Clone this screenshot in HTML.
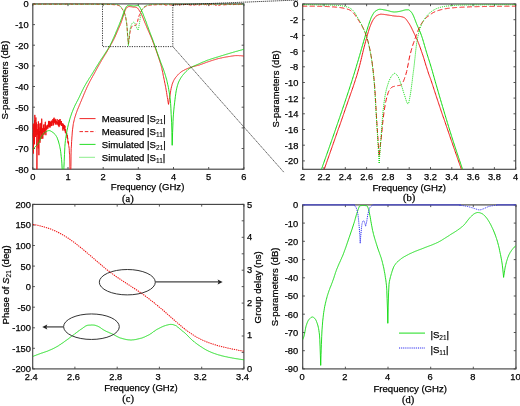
<!DOCTYPE html>
<html><head><meta charset="utf-8"><title>Figure</title><style>html,body{margin:0;padding:0;background:#fff}svg{display:block}</style></head><body>
<svg width="520" height="406" viewBox="0 0 520 406">
<rect width="520" height="406" fill="#fff"/>
<defs><filter id="soft" x="0" y="0" width="520" height="406" filterUnits="userSpaceOnUse"><feGaussianBlur stdDeviation="0.35"/></filter></defs><g filter="url(#soft)">
<rect x="32.8" y="3.9" width="211.05" height="165.30" fill="none" stroke="#444" stroke-width="1.15"/>
<path d="M32.8,169.2v-2.2M32.8,3.9v2.2M68.0,169.2v-2.2M68.0,3.9v2.2M103.2,169.2v-2.2M103.2,3.9v2.2M138.3,169.2v-2.2M138.3,3.9v2.2M173.5,169.2v-2.2M173.5,3.9v2.2M208.7,169.2v-2.2M208.7,3.9v2.2M243.9,169.2v-2.2M243.9,3.9v2.2M32.8,3.9h2.2M243.85,3.9h-2.2M32.8,24.6h2.2M243.85,24.6h-2.2M32.8,45.2h2.2M243.85,45.2h-2.2M32.8,65.9h2.2M243.85,65.9h-2.2M32.8,86.5h2.2M243.85,86.5h-2.2M32.8,107.2h2.2M243.85,107.2h-2.2M32.8,127.9h2.2M243.85,127.9h-2.2M32.8,148.5h2.2M243.85,148.5h-2.2M32.8,169.2h2.2M243.85,169.2h-2.2" stroke="#444" stroke-width="0.9" fill="none"/>
<rect x="302.7" y="4.0" width="213.00" height="165.30" fill="none" stroke="#444" stroke-width="1.15"/>
<path d="M302.7,169.3v-2.2M302.7,4.0v2.2M324.0,169.3v-2.2M324.0,4.0v2.2M345.3,169.3v-2.2M345.3,4.0v2.2M366.6,169.3v-2.2M366.6,4.0v2.2M387.9,169.3v-2.2M387.9,4.0v2.2M409.2,169.3v-2.2M409.2,4.0v2.2M430.5,169.3v-2.2M430.5,4.0v2.2M451.8,169.3v-2.2M451.8,4.0v2.2M473.1,169.3v-2.2M473.1,4.0v2.2M494.4,169.3v-2.2M494.4,4.0v2.2M515.7,169.3v-2.2M515.7,4.0v2.2M302.7,4.0h2.2M515.7,4.0h-2.2M302.7,19.7h2.2M515.7,19.7h-2.2M302.7,35.4h2.2M515.7,35.4h-2.2M302.7,51.1h2.2M515.7,51.1h-2.2M302.7,66.8h2.2M515.7,66.8h-2.2M302.7,82.5h2.2M515.7,82.5h-2.2M302.7,98.1h2.2M515.7,98.1h-2.2M302.7,113.8h2.2M515.7,113.8h-2.2M302.7,129.5h2.2M515.7,129.5h-2.2M302.7,145.2h2.2M515.7,145.2h-2.2M302.7,160.9h2.2M515.7,160.9h-2.2" stroke="#444" stroke-width="0.9" fill="none"/>
<rect x="32.7" y="204.4" width="211.20" height="164.50" fill="none" stroke="#444" stroke-width="1.15"/>
<path d="M32.7,368.9v-2.2M32.7,204.4v2.2M74.9,368.9v-2.2M74.9,204.4v2.2M117.2,368.9v-2.2M117.2,204.4v2.2M159.4,368.9v-2.2M159.4,204.4v2.2M201.7,368.9v-2.2M201.7,204.4v2.2M243.9,368.9v-2.2M243.9,204.4v2.2M32.7,204.4h2.2M32.7,225.0h2.2M32.7,245.5h2.2M32.7,266.1h2.2M32.7,286.6h2.2M32.7,307.2h2.2M32.7,327.8h2.2M32.7,348.3h2.2M32.7,368.9h2.2M243.9,204.4h-2.2M243.9,220.8h-2.2M243.9,237.3h-2.2M243.9,253.8h-2.2M243.9,270.2h-2.2M243.9,286.6h-2.2M243.9,303.1h-2.2M243.9,319.5h-2.2M243.9,336.0h-2.2M243.9,352.4h-2.2M243.9,368.9h-2.2" stroke="#444" stroke-width="0.9" fill="none"/>
<rect x="302.7" y="204.9" width="213.25" height="164.00" fill="none" stroke="#444" stroke-width="1.15"/>
<path d="M302.7,368.9v-2.2M302.7,204.9v2.2M345.4,368.9v-2.2M345.4,204.9v2.2M388.0,368.9v-2.2M388.0,204.9v2.2M430.7,368.9v-2.2M430.7,204.9v2.2M473.3,368.9v-2.2M473.3,204.9v2.2M516.0,368.9v-2.2M516.0,204.9v2.2M302.7,204.9h2.2M515.95,204.9h-2.2M302.7,223.1h2.2M515.95,223.1h-2.2M302.7,241.3h2.2M515.95,241.3h-2.2M302.7,259.6h2.2M515.95,259.6h-2.2M302.7,277.8h2.2M515.95,277.8h-2.2M302.7,296.0h2.2M515.95,296.0h-2.2M302.7,314.2h2.2M515.95,314.2h-2.2M302.7,332.5h2.2M515.95,332.5h-2.2M302.7,350.7h2.2M515.95,350.7h-2.2M302.7,368.9h2.2M515.95,368.9h-2.2" stroke="#444" stroke-width="0.9" fill="none"/>
<clipPath id="ca"><rect x="32.8" y="3.4" width="211.05" height="165.79999999999998"/></clipPath>
<clipPath id="cb"><rect x="302.7" y="3.5" width="213.00000000000006" height="165.8"/></clipPath>
<polyline points="32.5,133.0 32.6,137.6 32.8,130.4 32.9,124.3 33.0,128.8 33.2,123.5 33.3,134.3 33.4,153.6 33.5,128.6 33.7,127.4 33.8,141.0 33.9,139.0 34.1,135.3 34.2,124.5 34.3,133.5 34.5,144.3 34.6,120.4 34.7,129.3 34.8,114.9 35.0,121.0 35.1,120.1 35.2,132.2 35.4,124.5 35.5,137.0 35.6,135.8 35.8,132.6 35.9,117.5 36.0,130.0 36.1,133.6 36.3,135.3 36.4,122.5 36.5,146.0 36.7,146.0 36.8,146.0 36.9,178.0 37.1,146.0 37.2,146.0 37.3,146.0 37.4,129.2 37.6,132.7 37.7,134.7 37.8,134.1 38.0,124.1 38.1,134.1 38.2,148.4 38.4,121.4 38.5,142.6 38.6,134.2 38.7,128.0 38.9,155.2 39.0,141.2 39.1,123.5 39.3,133.3 39.4,138.9 39.5,130.9 39.7,139.9 39.8,131.6 39.9,139.6 40.0,142.7 40.2,126.9 40.3,133.3 40.4,128.4 40.6,132.6 40.7,123.3 40.8,127.6 41.0,130.2 41.1,137.4 41.2,138.9 41.3,122.7 41.5,126.1 41.6,135.2 41.7,118.7 41.9,128.2 42.0,130.3 42.1,138.3 42.3,134.8 42.4,128.8 42.5,128.5 42.6,129.2 42.8,138.7 42.9,128.1 43.0,128.7 43.2,132.1 43.3,129.6 43.4,129.1 43.6,124.6 43.7,129.9 43.8,127.8 43.9,135.1 44.1,132.6 44.2,129.5 44.3,132.4 44.5,128.0 44.6,133.6 44.7,129.3 44.9,131.4 45.0,124.2 45.1,130.3 45.2,122.9 45.4,121.8 45.5,127.7 45.6,125.7 45.8,129.1 45.9,135.2 46.0,125.9 46.2,126.5 46.3,128.7 46.4,129.4 46.5,127.5 46.7,127.3 46.8,129.4 46.9,128.8 47.1,125.2 47.2,127.2 47.3,127.3 47.5,124.8 47.6,127.6 47.7,125.0 47.8,128.8 48.0,127.0 48.1,126.6 48.2,125.0 48.4,125.9 48.5,121.6 48.6,123.4 48.8,126.5 48.9,120.9 49.0,127.3 49.1,121.4 49.3,126.8 49.4,123.2 49.5,126.6 49.7,125.1 49.8,121.3 49.9,127.3 50.1,127.6 50.2,124.2 50.3,123.6 50.4,123.8 50.6,121.9 50.7,126.3 50.8,122.6 51.0,123.6 51.1,121.9 51.2,122.1 51.4,120.6 51.5,126.0 51.6,122.8 51.7,125.2 51.9,123.0 52.0,121.3 52.1,122.0 52.3,121.4 52.4,122.6 52.5,121.6 52.7,121.7 52.8,119.2 52.9,120.4 53.0,125.7 53.2,120.5 53.3,119.6 53.4,122.6 53.6,124.9 53.7,118.6 53.8,121.2 54.0,120.3 54.1,117.7 54.2,123.2 54.3,121.5 54.5,121.7 54.6,119.9 54.7,122.5 54.9,120.3 55.0,121.2 55.1,119.1 55.3,118.9 55.4,124.5 55.5,120.4 55.6,122.2 55.8,121.5 55.9,120.7 56.0,120.6 56.2,123.1 56.3,121.1 56.4,121.5 56.6,121.9 56.7,124.5 56.8,123.4 56.9,122.8 57.1,120.8 57.2,119.1 57.3,124.3 57.5,124.4 57.6,122.0 57.7,123.5 57.9,124.1 58.0,124.3 58.1,124.6 58.2,121.6 58.4,126.0 58.5,120.0 58.6,124.7 58.8,124.0 58.9,124.9 59.0,127.1 59.2,126.3 59.3,120.6 59.4,119.5 59.5,125.1 59.7,121.2 59.8,123.4 59.9,125.4 60.1,120.0 60.2,119.1 60.3,124.4 60.5,124.0 60.6,123.5 60.7,124.2 60.8,122.4 61.0,121.0 61.1,124.1 61.2,122.5 61.4,121.1 61.5,126.0 61.6,124.8 61.8,126.0 61.9,123.1 62.0,123.9 62.1,123.3 62.3,123.7 62.4,126.2 62.5,124.3 62.7,126.8 62.8,126.9 62.9,130.5 63.1,123.7 63.2,128.5 63.3,126.7 63.4,127.0 63.6,124.5 63.7,126.6 63.8,129.0 64.0,127.7 64.1,128.2 64.2,127.7 64.4,130.6 64.5,128.7 64.6,125.1 64.7,128.0 64.9,126.1 65.0,126.0 65.1,129.1 65.3,132.5 65.4,130.7 65.5,129.1 65.7,129.8 65.8,133.3 65.9,132.2 66.0,132.3 66.2,132.6 66.3,133.1 66.4,134.6 66.6,134.7 66.7,134.6 66.8,133.4 67.0,136.1 67.1,135.1 67.2,138.0 67.3,135.6 67.5,137.8 67.6,138.6 67.7,137.8 67.9,142.3 68.0,142.7 68.1,141.3 68.3,143.5 68.4,143.9 68.5,141.9 68.6,145.4 68.8,145.9 68.9,146.9 69.0,146.8 69.2,148.6 69.3,150.2 69.4,153.0 69.6,154.1 69.7,155.9 69.8,160.0 69.9,167.2 70.1,176.4 70.2,190.1 70.3,207.6 70.5,208.2 70.6,192.3 70.7,177.9 70.9,166.7 71.0,157.0 71.1,152.5 71.2,148.7 71.4,146.1 71.5,144.1 71.6,141.5 71.8,139.1 71.9,137.1 72.0,136.0 72.1,135.3 72.3,132.0 72.6,129.2 72.9,126.9 73.2,125.0 73.2,124.8 73.4,123.5 73.7,122.1 74.0,120.8 74.3,119.6 74.5,118.6 74.8,117.6 75.1,116.7 75.4,115.8 75.7,115.0 75.9,114.1 76.2,113.3 76.2,113.3 76.5,112.5 76.8,111.7 77.0,110.9 77.3,110.2 77.6,109.5 77.9,108.9 78.1,108.2 78.4,107.6 78.7,106.9 79.0,106.3 79.2,105.6 79.5,105.0 79.5,105.0 79.8,104.3 80.1,103.6 80.3,102.9 80.6,102.3 80.9,101.6 81.2,101.0 81.5,100.3 81.7,99.6 82.0,99.0 82.0,99.0 82.3,98.3 82.6,97.7 82.8,97.0 83.1,96.4 83.4,95.7 83.7,95.0 83.9,94.4 84.2,93.7 84.5,93.0 84.8,92.4 85.0,91.7 85.3,91.1 85.6,90.4 85.9,89.8 86.2,89.2 86.4,88.6 86.7,87.9 87.0,87.3 87.3,86.7 87.5,86.1 87.7,85.8 87.8,85.6 88.1,85.0 88.4,84.4 88.6,83.9 88.9,83.3 89.2,82.8 89.5,82.3 89.7,81.7 90.0,81.2 90.3,80.7 90.6,80.2 90.8,79.7 91.1,79.2 91.4,78.7 91.7,78.1 92.0,77.6 92.2,77.1 92.5,76.6 92.8,76.1 93.1,75.6 93.3,75.2 93.6,74.7 93.9,74.2 94.2,73.7 94.4,73.2 94.7,72.7 94.8,72.5 95.0,72.1 95.3,71.6 95.5,71.1 95.8,70.6 96.1,70.1 96.4,69.6 96.7,69.1 96.9,68.6 97.2,68.1 97.5,67.6 97.8,67.1 98.0,66.6 98.3,66.1 98.6,65.6 98.9,65.1 99.1,64.6 99.4,64.2 99.7,63.7 100.0,63.2 100.2,62.7 100.5,62.2 100.8,61.7 101.1,61.3 101.3,60.8 101.4,60.7 101.6,60.3 101.9,59.8 102.2,59.4 102.5,58.9 102.7,58.5 103.0,58.0 103.3,57.6 103.6,57.1 103.8,56.7 104.1,56.2 104.4,55.8 104.7,55.3 104.9,54.9 105.2,54.4 105.5,54.0 105.8,53.5 106.0,53.1 106.2,52.8 106.3,52.6 106.6,52.1 106.9,51.7 107.2,51.2 107.4,50.7 107.7,50.2 108.0,49.8 108.3,49.3 108.5,48.8 108.8,48.3 109.1,47.9 109.4,47.4 109.6,46.9 109.8,46.6 109.9,46.4 110.2,45.9 110.5,45.4 110.7,44.9 111.0,44.4 111.3,43.9 111.6,43.5 111.9,43.0 112.1,42.5 112.4,42.0 112.7,41.4 113.0,40.9 113.2,40.4 113.5,39.9 113.8,39.3 114.1,38.8 114.2,38.4 114.3,38.2 114.6,37.6 114.9,37.0 115.2,36.4 115.4,35.8 115.7,35.2 116.0,34.5 116.3,33.9 116.5,33.2 116.8,32.6 117.1,31.9 117.4,31.3 117.7,30.6 117.9,30.0 118.2,29.3 118.3,29.2 118.5,28.7 118.8,28.1 119.0,27.5 119.3,26.9 119.6,26.2 119.9,25.6 120.1,24.9 120.4,24.3 120.6,23.9 120.7,23.6 121.0,22.8 121.2,22.1 121.5,21.3 121.8,20.5 122.1,19.7 122.1,19.7 122.4,18.8 122.6,17.9 122.9,17.0 123.2,16.1 123.2,16.0 123.5,15.2 123.7,14.4 124.0,13.5 124.3,12.7 124.4,12.5 124.6,12.0 124.8,11.2 125.1,10.5 125.3,10.0 125.4,9.9 125.7,9.3 125.9,8.8 126.2,8.4 126.4,8.1 126.5,8.0 126.8,7.7 127.0,7.4 127.3,7.1 127.5,7.0 127.6,7.0 127.9,6.9 128.2,6.8 128.4,6.7 128.7,6.6 129.0,6.6 129.0,6.6 129.3,6.6 129.5,6.6 129.8,6.6 130.1,6.7 130.4,6.7 130.6,6.7 130.9,6.8 131.2,6.8 131.3,6.8 131.5,6.8 131.7,6.8 132.0,6.9 132.3,6.9 132.6,7.0 132.9,7.0 133.1,7.0 133.4,7.1 133.4,7.1 133.7,7.1 134.0,7.1 134.2,7.1 134.5,7.1 134.8,7.1 135.1,7.2 135.3,7.2 135.6,7.2 135.6,7.2 135.9,7.3 136.2,7.3 136.4,7.4 136.7,7.5 136.7,7.5 137.0,7.7 137.3,7.9 137.6,8.2 137.8,8.5 138.1,8.8 138.2,9.0 138.4,9.2 138.7,9.6 138.9,10.0 139.2,10.4 139.5,10.9 139.7,11.3 139.8,11.3 140.0,11.8 140.3,12.2 140.6,12.7 140.9,13.2 141.1,13.7 141.3,13.9 141.4,14.2 141.7,14.8 142.0,15.4 142.2,16.0 142.5,16.7 142.8,17.3 142.8,17.4 143.1,18.0 143.4,18.7 143.6,19.4 143.9,20.2 144.2,20.9 144.5,21.6 144.7,22.1 144.7,22.3 145.0,22.9 145.3,23.5 145.5,23.9 145.6,24.1 145.8,24.7 146.1,25.4 146.4,26.1 146.7,26.7 146.9,27.4 147.2,28.1 147.5,28.8 147.7,29.2 147.8,29.4 148.1,30.1 148.3,30.7 148.6,31.4 148.9,32.0 149.2,32.6 149.4,33.2 149.7,33.9 150.0,34.5 150.3,35.1 150.5,35.8 150.8,36.4 151.1,37.1 151.4,37.8 151.6,38.4 151.8,38.8 151.9,39.1 152.2,39.8 152.5,40.5 152.7,41.2 153.0,42.0 153.3,42.7 153.6,43.4 153.9,44.1 154.1,44.9 154.4,45.6 154.7,46.4 155.0,47.1 155.2,47.9 155.5,48.6 155.8,49.4 156.1,50.2 156.3,51.0 156.6,51.8 156.9,52.6 157.2,53.4 157.4,54.2 157.7,55.0 158.0,55.8 158.3,56.6 158.6,57.4 158.8,58.3 159.0,58.8 159.1,59.1 159.4,60.0 159.7,60.8 159.9,61.6 160.2,62.5 160.5,63.4 160.8,64.3 161.0,65.3 161.3,66.3 161.5,67.0 161.6,67.4 161.9,68.5 162.1,69.8 162.4,71.1 162.7,72.4 163.0,73.8 163.2,75.2 163.5,76.6 163.8,78.0 163.8,78.0 164.1,79.4 164.4,80.7 164.6,82.0 164.9,83.4 165.2,84.8 165.5,86.2 165.7,87.7 165.8,88.0 166.0,89.2 166.3,90.8 166.6,92.5 166.8,94.2 167.1,95.9 167.3,97.0 167.4,97.6 167.7,99.3 167.9,101.0 168.2,102.7 168.5,104.4 168.9,102.0 169.2,99.6 169.6,97.3 169.7,96.9 170.0,95.1 170.4,92.9 170.7,90.7 171.1,88.7 171.5,86.9 171.7,86.1 171.9,85.5 172.2,84.2 172.6,83.1 173.0,82.1 173.4,81.3 173.6,80.8 173.7,80.5 174.1,79.8 174.5,79.2 174.9,78.6 175.2,78.0 175.6,77.5 176.0,77.0 176.4,76.6 176.6,76.3 176.7,76.1 177.1,75.7 177.5,75.3 177.9,74.9 178.2,74.5 178.6,74.1 179.0,73.7 179.4,73.4 179.7,73.1 180.1,72.7 180.5,72.4 180.9,72.1 181.2,71.9 181.5,71.7 181.6,71.6 182.0,71.4 182.4,71.1 182.7,70.9 183.1,70.7 183.5,70.5 183.9,70.3 184.2,70.1 184.6,69.9 185.0,69.7 185.4,69.5 185.7,69.3 186.1,69.1 186.5,69.0 186.9,68.8 187.2,68.7 187.6,68.5 188.0,68.3 188.4,68.2 188.7,68.1 189.1,67.9 189.4,67.8 189.5,67.8 189.9,67.6 190.2,67.5 190.6,67.4 191.0,67.3 191.4,67.2 191.7,67.0 192.1,66.9 192.5,66.8 192.9,66.7 193.2,66.6 193.6,66.5 194.0,66.4 194.3,66.3 194.7,66.2 195.1,66.1 195.5,66.0 195.8,65.9 196.2,65.8 196.6,65.7 197.0,65.6 197.3,65.5 197.7,65.4 198.1,65.3 198.5,65.2 198.8,65.1 199.2,65.0 199.2,65.0 199.6,64.9 200.0,64.7 200.3,64.6 200.7,64.5 201.1,64.4 201.5,64.2 201.8,64.1 202.2,64.0 202.6,63.8 203.0,63.7 203.3,63.5 203.7,63.4 204.1,63.3 204.5,63.1 204.8,63.0 205.2,62.8 205.6,62.7 206.0,62.6 206.3,62.4 206.7,62.3 207.1,62.2 207.5,62.0 207.8,61.9 208.2,61.8 208.6,61.6 209.0,61.5 209.0,61.5 209.3,61.4 209.7,61.3 210.1,61.1 210.5,61.0 210.8,60.9 211.2,60.8 211.6,60.6 212.0,60.5 212.3,60.4 212.7,60.3 213.1,60.2 213.5,60.0 213.8,59.9 214.2,59.8 214.6,59.7 215.0,59.6 215.3,59.5 215.7,59.4 216.1,59.2 216.5,59.1 216.8,59.0 217.2,58.9 217.6,58.8 218.0,58.7 218.3,58.6 218.7,58.5 218.9,58.5 219.1,58.5 219.4,58.4 219.8,58.3 220.2,58.2 220.6,58.1 220.9,58.0 221.3,58.0 221.7,57.9 222.1,57.8 222.4,57.7 222.8,57.6 223.2,57.6 223.6,57.5 223.9,57.4 224.3,57.3 224.7,57.3 225.1,57.2 225.4,57.1 225.8,57.1 226.2,57.0 226.6,56.9 226.9,56.9 227.3,56.8 227.7,56.8 228.1,56.7 228.4,56.6 228.7,56.6 228.8,56.6 229.2,56.5 229.6,56.5 229.9,56.4 230.3,56.3 230.7,56.3 231.1,56.2 231.4,56.1 231.8,56.1 232.2,56.0 232.6,56.0 232.9,55.9 233.3,55.9 233.7,55.8 234.1,55.8 234.4,55.7 234.8,55.7 235.2,55.7 235.6,55.6 235.9,55.6 236.3,55.6 236.6,55.6 236.7,55.6 237.1,55.6 237.4,55.6 237.8,55.6 238.2,55.6 238.6,55.6 238.9,55.6 239.3,55.7 239.7,55.7 240.1,55.7 240.4,55.7 240.8,55.7 241.2,55.8 241.6,55.8 241.9,55.8 242.3,55.9 242.7,55.9 243.1,56.0 243.4,56.0 243.8,56.1" fill="none" stroke="#ee1010" stroke-width="0.9" stroke-linejoin="round" clip-path="url(#ca)"/>
<polyline points="32.8,4.0 33.0,4.0 34.3,4.1 35.6,4.1 36.9,4.1 38.2,4.2 39.5,3.9 40.8,4.2 42.1,4.0 43.4,4.2 44.7,4.1 46.0,4.0 47.3,4.1 48.6,4.1 49.9,4.1 51.2,4.1 52.5,4.0 53.8,3.8 55.1,4.2 56.4,4.1 57.7,4.1 59.0,4.1 60.3,4.2 61.6,4.0 62.9,4.0 64.2,4.0 65.5,4.2 66.8,3.9 68.1,4.2 69.4,4.0 70.7,3.9 72.0,4.2 73.3,4.0 74.6,3.9 75.9,4.0 77.2,4.2 78.5,4.2 79.8,4.0 81.1,4.1 82.4,4.1 83.7,4.0 85.0,4.1 86.3,4.0 87.6,4.0 88.9,4.0 90.2,4.1 91.5,4.1 92.8,4.0 94.1,4.0 95.4,4.2 96.7,4.1 98.0,4.2 99.3,4.2 100.6,4.1 101.9,4.3 103.2,4.0 104.5,4.1 105.8,4.0 107.1,4.3 108.4,4.3 108.9,4.5 109.1,4.5 109.4,4.5 109.7,4.5 109.9,4.5 110.2,4.5 110.4,4.5 110.7,4.5 111.0,4.6 111.2,4.6 111.5,4.6 111.8,4.6 112.0,4.6 112.3,4.6 112.6,4.6 112.8,4.6 113.1,4.7 113.2,4.7 113.4,4.7 113.6,4.7 113.9,4.7 114.1,4.7 114.4,4.7 114.7,4.8 114.9,4.8 115.2,4.8 115.5,4.9 115.7,4.9 116.0,4.9 116.1,4.9 116.3,4.9 116.5,5.0 116.8,5.0 117.1,5.1 117.3,5.1 117.6,5.2 117.8,5.2 118.1,5.3 118.4,5.4 118.4,5.4 118.6,5.5 118.9,5.6 119.2,5.7 119.4,5.9 119.7,6.1 119.8,6.1 120.0,6.3 120.2,6.6 120.5,6.8 120.8,7.2 121.0,7.5 121.3,7.8 121.3,7.8 121.5,8.1 121.8,8.4 122.1,8.8 122.3,9.1 122.6,9.5 122.7,9.7 122.9,9.9 123.1,10.3 123.4,10.8 123.7,11.3 123.9,11.8 124.2,12.4 124.2,12.5 124.5,13.0 124.7,13.8 125.0,14.6 125.2,15.5 125.5,16.6 125.7,17.4 125.8,17.7 126.0,19.1 126.3,20.7 126.6,22.6 126.8,24.4 126.8,24.7 127.1,27.7 127.4,31.4 127.6,35.0 127.7,35.8 127.9,38.1 128.2,41.1 128.4,44.0 128.7,42.0 129.0,39.9 129.2,38.4 129.3,37.8 129.5,35.6 129.8,33.5 130.0,32.3 130.1,31.9 130.4,30.5 130.7,29.4 130.9,28.4 131.0,28.4 131.2,27.7 131.5,27.1 131.8,26.6 131.8,26.6 132.1,26.3 132.3,26.0 132.6,25.8 132.8,25.7 132.9,25.7 133.2,25.6 133.5,25.6 133.7,25.5 134.0,25.5 134.3,25.4 134.3,25.4 134.6,25.4 134.9,25.4 135.1,25.3 135.4,25.3 135.6,25.2 135.7,25.2 136.0,24.9 136.3,24.5 136.4,24.2 136.5,24.0 136.8,23.5 137.1,22.8 137.4,22.0 137.5,21.6 137.6,21.1 137.9,20.0 138.2,18.8 138.5,17.7 138.6,17.4 138.8,16.8 139.0,16.0 139.3,15.2 139.6,14.5 139.9,13.9 140.2,13.2 140.4,12.8 140.4,12.6 140.7,12.0 141.0,11.4 141.3,10.8 141.6,10.3 141.8,9.8 142.1,9.4 142.2,9.3 142.4,9.0 142.7,8.7 143.0,8.4 143.2,8.1 143.5,7.9 143.8,7.7 144.1,7.4 144.4,7.2 144.4,7.2 144.6,7.1 144.9,6.9 145.2,6.7 145.5,6.6 145.8,6.4 146.0,6.3 146.3,6.1 146.6,6.0 146.9,5.9 147.2,5.8 147.3,5.8 147.4,5.7 147.7,5.7 148.0,5.6 148.3,5.5 148.6,5.5 148.8,5.4 149.1,5.3 149.4,5.3 149.7,5.2 150.0,5.2 150.2,5.2 150.5,5.1 150.8,5.1 151.0,5.1 151.1,5.1 151.4,5.0 151.6,5.0 151.9,5.0 152.2,4.9 152.5,4.9 152.8,4.9 153.0,4.9 153.3,4.9 153.6,4.8 153.9,4.8 154.2,4.8 154.4,4.8 154.7,4.8 155.0,4.8 155.1,4.8 155.3,4.8 155.6,4.8 155.8,4.7 156.1,4.7 156.4,4.7 156.7,4.7 157.0,4.7 157.2,4.7 157.5,4.7 157.8,4.7 158.1,4.7 158.4,4.6 158.6,4.6 158.9,4.6 159.2,4.6 159.5,4.6 159.8,4.6 160.0,4.6 160.3,4.6 160.6,4.6 160.9,4.6 161.1,4.6 161.4,4.6 161.7,4.6 162.7,3.9 164.0,4.3 165.3,5.0 166.6,5.0 167.9,5.0 169.2,4.7 170.5,4.9 171.8,5.0 173.1,4.7 174.4,5.1 175.7,3.8 177.0,5.0 178.3,4.3 179.6,5.1 180.9,4.6 182.2,4.3 183.5,4.8 184.8,4.3 186.1,4.3 187.4,4.1 188.7,4.7 190.0,4.9 191.3,5.1 192.6,4.6 193.9,5.1 195.2,4.7 196.5,4.7 197.8,4.9 199.1,5.1 200.4,4.6 201.7,4.6 203.0,4.6 204.3,4.7 205.6,4.3 206.9,5.1 208.2,4.5 209.5,4.9 210.8,4.4 212.1,4.8 213.4,4.9 214.7,4.5 216.0,5.5 217.3,4.8 218.6,5.4 219.9,5.1 221.2,4.4 222.5,4.5 223.8,4.9 225.1,4.7 226.4,4.7 227.7,4.6 229.0,4.0 230.3,4.6 231.6,3.8 232.9,4.8 234.2,4.4 235.5,4.4 236.8,4.6 238.1,4.8 239.4,4.1 240.7,4.0 242.0,4.3 243.3,3.9" fill="none" stroke="#ee1010" stroke-width="0.9" stroke-linejoin="round" stroke-dasharray="3.5,1.8" clip-path="url(#ca)"/>
<polyline points="32.5,150.0 32.8,149.6 33.2,149.2 33.5,148.8 33.8,148.4 34.2,148.0 34.5,147.6 34.8,147.2 35.0,147.0 35.1,146.8 35.5,146.5 35.8,146.2 36.1,145.9 36.5,145.5 36.8,145.2 37.1,144.9 37.5,144.6 37.8,144.2 38.1,143.8 38.3,143.5 38.4,143.3 38.8,142.7 39.1,142.0 39.4,141.3 39.8,140.4 40.1,139.6 40.4,138.8 40.8,138.0 41.1,137.3 41.4,136.7 41.6,136.4 41.8,136.2 42.1,135.7 42.4,135.2 42.7,134.7 43.1,134.3 43.4,133.8 43.7,133.4 44.1,133.1 44.4,132.8 44.7,132.5 45.0,132.3 45.1,132.3 45.4,132.1 45.7,131.8 46.0,131.6 46.4,131.5 46.7,131.3 47.0,131.1 47.4,131.0 47.7,130.8 48.0,130.7 48.4,130.7 48.7,130.6 49.0,130.6 49.0,130.6 49.4,130.6 49.7,130.7 50.0,130.8 50.3,130.9 50.7,131.0 51.0,131.2 51.3,131.4 51.7,131.6 52.0,131.8 52.3,132.0 52.7,132.3 53.0,132.5 53.0,132.5 53.3,132.7 53.6,133.0 54.0,133.3 54.3,133.6 54.6,134.0 55.0,134.3 55.3,134.8 55.6,135.2 56.0,135.7 56.3,136.2 56.4,136.4 56.6,136.8 57.0,137.4 57.3,138.2 57.6,139.0 57.9,139.9 58.3,140.9 58.6,142.0 58.9,143.2 59.3,144.5 59.6,145.8 59.7,146.3 59.9,147.4 60.3,149.1 60.6,151.2 60.9,153.6 61.2,156.4 61.6,159.7 61.7,161.0 61.9,163.8 62.2,169.7 62.6,177.0 62.9,185.0 63.2,179.5 63.5,173.7 63.9,167.7 64.2,161.5 64.2,161.0 64.5,154.3 64.8,147.6 64.9,146.3 65.1,143.7 65.4,140.7 65.8,138.2 66.1,136.0 66.4,134.1 66.6,133.0 66.7,132.3 67.0,130.6 67.4,129.0 67.7,127.4 68.0,126.0 68.3,124.7 68.6,123.4 69.0,122.2 69.3,121.1 69.6,119.9 69.6,119.9 69.9,118.8 70.2,117.8 70.5,116.8 70.9,115.8 71.2,114.9 71.5,113.9 71.8,113.1 72.1,112.2 72.5,111.4 72.8,110.5 73.1,109.8 73.4,109.0 73.7,108.3 73.7,108.2 74.1,107.5 74.4,106.8 74.7,106.1 75.0,105.4 75.3,104.8 75.6,104.1 76.0,103.5 76.3,102.9 76.6,102.3 76.9,101.7 77.2,101.1 77.6,100.5 77.9,99.8 78.2,99.2 78.3,99.0 78.5,98.6 78.8,97.9 79.2,97.3 79.5,96.6 79.8,95.9 80.1,95.3 80.4,94.6 80.7,93.9 81.1,93.2 81.4,92.6 81.7,91.9 82.0,91.2 82.3,90.6 82.7,89.9 83.0,89.3 83.3,88.7 83.6,88.0 83.9,87.4 84.3,86.8 84.6,86.2 84.8,85.8 84.9,85.6 85.2,85.1 85.5,84.5 85.8,84.0 86.2,83.4 86.5,82.9 86.8,82.3 87.1,81.8 87.4,81.3 87.8,80.8 88.1,80.3 88.4,79.8 88.7,79.3 89.0,78.7 89.3,78.2 89.7,77.7 90.0,77.3 90.3,76.8 90.6,76.3 90.9,75.8 91.3,75.3 91.6,74.8 91.9,74.3 92.2,73.8 92.5,73.2 92.9,72.7 93.0,72.5 93.2,72.2 93.5,71.7 93.8,71.2 94.1,70.7 94.4,70.1 94.8,69.6 95.1,69.1 95.4,68.6 95.7,68.1 96.0,67.5 96.4,67.0 96.7,66.5 97.0,66.0 97.3,65.5 97.6,65.0 98.0,64.4 98.3,63.9 98.6,63.4 98.9,62.9 99.2,62.4 99.5,61.9 99.9,61.4 100.2,60.9 100.3,60.7 100.5,60.4 100.8,59.9 101.1,59.4 101.5,58.9 101.8,58.4 102.1,58.0 102.4,57.5 102.7,57.0 103.1,56.5 103.4,56.0 103.7,55.6 104.0,55.1 104.3,54.6 104.6,54.1 105.0,53.6 105.3,53.1 105.5,52.8 105.6,52.6 105.9,52.2 106.2,51.7 106.6,51.2 106.9,50.7 107.2,50.2 107.5,49.7 107.8,49.2 108.1,48.7 108.5,48.2 108.8,47.7 109.1,47.1 109.4,46.6 109.4,46.6 109.7,46.0 110.1,45.4 110.4,44.7 110.7,44.1 111.0,43.4 111.3,42.8 111.7,42.1 112.0,41.4 112.3,40.7 112.6,40.0 112.9,39.3 113.2,38.6 113.4,38.4 113.6,37.9 113.9,37.2 114.2,36.5 114.5,35.8 114.8,35.0 115.2,34.3 115.5,33.6 115.8,32.8 116.1,32.0 116.4,31.3 116.8,30.5 117.1,29.8 117.3,29.2 117.4,29.0 117.7,28.3 118.0,27.5 118.3,26.7 118.7,26.0 119.0,25.2 119.3,24.4 119.5,23.9 119.6,23.6 119.9,22.8 120.3,22.0 120.6,21.1 120.9,20.3 121.2,19.4 121.5,18.6 121.5,18.6 121.9,17.7 122.2,16.9 122.5,16.0 122.8,15.1 123.1,14.2 123.4,13.4 123.4,13.3 123.8,12.5 124.1,11.6 124.4,10.7 124.7,9.9 124.9,9.4 125.0,9.1 125.4,8.4 125.7,7.7 126.0,7.1 126.1,7.0 126.3,6.7 126.6,6.3 127.0,5.9 127.2,5.8 127.3,5.7 127.6,5.6 127.9,5.4 128.2,5.3 128.5,5.3 128.6,5.3 128.9,5.3 129.2,5.3 129.5,5.4 129.8,5.4 130.1,5.5 130.5,5.5 130.7,5.5 130.8,5.5 131.1,5.6 131.4,5.7 131.7,5.7 132.0,5.8 132.4,5.9 132.7,5.9 133.0,6.0 133.3,6.0 133.4,6.0 133.6,6.0 134.0,6.0 134.3,6.0 134.6,5.9 134.9,5.9 135.2,5.8 135.6,5.8 135.6,5.8 135.9,5.7 136.2,5.6 136.5,5.6 136.8,5.5 137.1,5.5 137.1,5.5 137.5,5.4 137.8,5.4 138.0,5.4 138.1,5.4 138.4,5.6 138.7,5.8 138.8,5.8 139.1,6.1 139.4,6.5 139.4,6.5 139.7,7.0 140.0,7.6 140.3,8.2 140.7,8.9 140.8,9.3 141.0,9.5 141.3,10.1 141.6,10.7 141.9,11.3 142.2,11.9 142.4,12.2 142.6,12.7 142.9,13.5 143.2,14.3 143.5,15.2 143.8,16.1 143.9,16.3 144.2,16.9 144.5,17.7 144.8,18.5 145.1,19.3 145.4,20.2 145.7,20.9 145.8,21.0 146.1,21.9 146.4,22.8 146.7,23.7 146.8,23.9 147.0,24.6 147.3,25.5 147.7,26.4 148.0,27.2 148.3,28.1 148.6,29.0 148.7,29.2 148.9,29.8 149.3,30.7 149.6,31.5 149.9,32.4 150.2,33.2 150.5,34.0 150.8,34.8 151.2,35.7 151.5,36.5 151.8,37.3 152.1,38.2 152.4,38.8 152.4,39.0 152.8,39.9 153.1,40.8 153.4,41.7 153.7,42.6 154.0,43.4 154.4,44.3 154.7,45.2 155.0,46.2 155.3,47.1 155.6,48.0 155.9,48.9 156.3,49.8 156.6,50.7 156.9,51.6 157.2,52.5 157.5,53.4 157.9,54.3 158.2,55.3 158.5,56.2 158.8,57.1 159.1,58.0 159.5,58.8 159.8,59.7 160.1,60.6 160.4,61.5 160.6,62.0 160.7,62.3 161.0,63.2 161.4,64.0 161.7,64.8 162.0,65.6 162.3,66.4 162.6,67.3 163.0,68.1 163.3,68.9 163.6,69.8 163.9,70.7 164.0,71.0 164.2,71.7 164.6,72.7 164.9,73.7 165.2,74.7 165.5,75.7 165.8,76.8 166.1,77.9 166.5,79.1 166.8,80.3 167.0,81.2 167.1,81.6 167.4,83.0 167.7,84.4 168.1,85.9 168.4,87.5 168.7,89.3 169.0,91.0 169.0,91.1 169.3,92.9 169.7,94.9 170.0,97.2 170.3,99.9 170.4,101.0 170.6,103.4 170.9,108.4 171.2,114.5 171.4,118.0 171.6,122.2 171.9,132.7 172.2,145.3 172.6,132.2 173.0,121.6 173.2,118.0 173.4,114.9 173.8,110.1 174.2,106.3 174.6,103.0 174.6,102.9 175.0,99.5 175.4,96.3 175.8,93.4 176.2,90.9 176.6,89.0 176.6,88.9 177.0,87.2 177.4,85.7 177.8,84.4 178.2,83.2 178.6,82.1 179.0,81.2 179.5,80.3 179.5,80.2 179.9,79.5 180.3,78.8 180.7,78.1 181.1,77.5 181.5,76.9 181.9,76.3 182.3,75.8 182.7,75.3 183.1,74.8 183.5,74.3 183.9,73.9 184.3,73.4 184.4,73.3 184.7,73.0 185.1,72.5 185.5,72.1 185.9,71.7 186.3,71.3 186.7,70.9 187.1,70.5 187.5,70.1 187.9,69.7 188.3,69.4 188.7,69.1 189.1,68.8 189.4,68.6 189.5,68.5 189.9,68.3 190.3,68.0 190.7,67.8 191.1,67.5 191.5,67.3 191.9,67.1 192.3,66.8 192.7,66.6 193.1,66.4 193.5,66.2 194.0,66.0 194.4,65.8 194.8,65.7 195.2,65.5 195.6,65.3 196.0,65.1 196.4,64.9 196.8,64.8 197.2,64.6 197.6,64.4 198.0,64.2 198.4,64.1 198.8,63.9 199.2,63.7 199.2,63.7 199.6,63.5 200.0,63.3 200.4,63.2 200.8,63.0 201.2,62.8 201.6,62.6 202.0,62.5 202.4,62.3 202.8,62.1 203.2,62.0 203.6,61.8 204.0,61.6 204.4,61.5 204.8,61.3 205.2,61.1 205.6,61.0 206.0,60.8 206.4,60.6 206.8,60.5 207.2,60.3 207.6,60.2 208.1,60.0 208.5,59.9 208.9,59.8 209.0,59.7 209.3,59.6 209.7,59.5 210.1,59.3 210.5,59.2 210.9,59.1 211.3,58.9 211.7,58.8 212.1,58.7 212.5,58.5 212.9,58.4 213.3,58.3 213.7,58.2 214.1,58.1 214.5,57.9 214.9,57.8 215.3,57.7 215.7,57.6 216.1,57.4 216.5,57.3 216.9,57.2 217.3,57.1 217.7,57.0 218.1,56.8 218.5,56.7 218.9,56.6 218.9,56.6 219.3,56.5 219.7,56.3 220.1,56.2 220.5,56.1 220.9,56.0 221.3,55.8 221.7,55.7 222.1,55.6 222.6,55.5 223.0,55.3 223.4,55.2 223.8,55.1 224.2,55.0 224.6,54.8 225.0,54.7 225.4,54.6 225.8,54.5 226.2,54.4 226.6,54.2 227.0,54.1 227.4,54.0 227.8,53.9 228.2,53.8 228.6,53.6 228.7,53.6 229.0,53.5 229.4,53.4 229.8,53.3 230.2,53.2 230.6,53.0 231.0,52.9 231.4,52.8 231.8,52.7 232.2,52.6 232.6,52.5 233.0,52.3 233.4,52.2 233.8,52.1 234.2,52.0 234.6,51.9 235.0,51.8 235.4,51.6 235.8,51.5 236.2,51.4 236.6,51.3 237.1,51.2 237.5,51.1 237.9,51.0 238.3,50.8 238.7,50.7 239.1,50.6 239.5,50.5 239.9,50.4 240.3,50.3 240.7,50.2 241.1,50.1 241.5,50.0 241.9,49.8 242.3,49.7 242.7,49.6 243.1,49.5 243.5,49.4 243.9,49.3" fill="none" stroke="#0cd90c" stroke-width="0.9" stroke-linejoin="round" clip-path="url(#ca)"/>
<polyline points="32.8,4.0 110.5,4.1 110.8,4.1 111.0,4.1 111.3,4.1 111.6,4.1 111.9,4.2 112.1,4.2 112.4,4.2 112.7,4.2 112.9,4.2 113.2,4.2 113.5,4.2 113.7,4.2 114.0,4.2 114.3,4.2 114.5,4.3 114.8,4.3 115.1,4.3 115.3,4.3 115.5,4.3 115.6,4.3 115.9,4.4 116.1,4.4 116.4,4.4 116.7,4.4 116.9,4.5 117.2,4.5 117.5,4.6 117.7,4.7 118.0,4.7 118.1,4.7 118.3,4.8 118.5,4.9 118.8,5.0 119.1,5.1 119.3,5.3 119.6,5.5 119.8,5.6 119.9,5.7 120.1,6.0 120.4,6.3 120.7,6.6 120.9,7.0 121.2,7.3 121.3,7.5 121.5,7.7 121.7,8.1 122.0,8.4 122.3,8.8 122.5,9.2 122.7,9.6 122.8,9.7 123.1,10.1 123.3,10.6 123.6,11.1 123.9,11.7 124.1,12.3 124.2,12.5 124.4,12.9 124.7,13.7 124.9,14.6 125.2,15.5 125.5,16.6 125.7,17.6 125.7,17.8 126.0,19.2 126.3,20.9 126.5,22.8 126.8,25.0 126.8,25.1 127.1,28.1 127.3,31.8 127.6,35.6 127.7,36.6 127.9,39.0 128.1,42.5 128.4,45.9 128.6,43.7 128.8,41.5 129.0,39.5 129.1,38.4 129.2,37.5 129.4,35.4 129.5,33.5 129.7,31.9 129.7,31.8 129.9,30.6 130.1,29.4 130.3,28.4 130.5,27.6 130.5,27.6 130.7,26.9 130.8,26.2 131.0,25.7 131.2,25.2 131.3,25.0 131.4,24.8 131.6,24.4 131.8,24.0 132.0,23.6 132.2,23.3 132.3,23.1 132.3,23.1 132.5,22.9 132.7,22.7 132.9,22.5 133.1,22.3 133.3,22.2 133.5,22.2 133.6,22.2 133.7,22.2 133.8,22.2 134.0,22.4 134.2,22.5 134.4,22.7 134.6,23.0 134.6,23.0 134.8,23.2 135.0,23.5 135.2,23.9 135.3,24.3 135.5,24.8 135.6,25.0 135.7,25.2 135.9,25.7 136.1,26.1 136.3,26.6 136.5,27.1 136.7,27.6 136.8,27.9 136.8,28.0 137.0,28.4 137.2,28.8 137.4,29.2 137.6,29.6 137.8,29.9 138.0,30.2 138.3,29.5 138.5,28.5 138.7,27.9 138.8,27.2 139.1,25.5 139.4,23.9 139.4,23.7 139.7,21.8 140.0,19.8 140.1,19.2 140.3,17.7 140.6,15.5 140.7,14.5 140.9,13.9 141.1,12.6 141.4,11.5 141.7,10.7 141.8,10.4 142.0,10.0 142.3,9.4 142.6,8.9 142.9,8.5 143.2,8.1 143.5,7.7 143.7,7.5 143.8,7.4 144.0,7.1 144.3,6.9 144.6,6.6 144.9,6.4 145.2,6.2 145.5,6.0 145.8,5.8 145.9,5.8 146.1,5.7 146.4,5.5 146.6,5.4 146.9,5.3 147.2,5.2 147.5,5.1 147.8,5.0 148.1,4.9 148.1,4.9 148.4,4.8 148.7,4.8 149.0,4.7 149.3,4.7 149.5,4.6 149.8,4.6 150.1,4.5 150.4,4.5 150.7,4.5 151.0,4.4 151.0,4.4 151.3,4.4 151.6,4.4 151.9,4.4 152.2,4.3 152.4,4.3 152.7,4.3 153.0,4.3 153.3,4.3 153.6,4.2 153.9,4.2 154.2,4.2 154.5,4.2 154.8,4.2 155.0,4.2 155.1,4.2 155.3,4.2 155.6,4.2 155.9,4.2 156.2,4.2 156.5,4.2 156.8,4.2 157.1,4.2 157.4,4.1 157.7,4.1 157.9,4.1 158.2,4.1 158.5,4.1 158.8,4.1 159.1,4.1 159.4,4.1 159.7,4.1 160.0,4.1 160.3,4.1 160.6,4.1 160.8,4.1 161.1,4.1 161.4,4.1 161.7,4.1 243.8,4.0" fill="none" stroke="#0cd90c" stroke-width="0.9" stroke-linejoin="round" stroke-dasharray="1,1" clip-path="url(#ca)"/>
<path d="M102.5,3.9V46.6H172.8V3.9" fill="none" stroke="#222" stroke-width="0.9" stroke-dasharray="1.2,1.2"/>
<path d="M172.8,5.0L298,0" fill="none" stroke="#111" stroke-width="1" stroke-dasharray="1,1"/><path d="M172.8,46.6L284,172.4" fill="none" stroke="#333" stroke-width="0.75" stroke-dasharray="1.6,0.5"/>
<text x="28.7" y="7.3" font-size="9.3" text-anchor="end" font-family='"Liberation Sans", Arial, sans-serif' fill="#000" stroke="#000" stroke-width="0.25">0</text>
<text x="28.7" y="28.0" font-size="9.3" text-anchor="end" font-family='"Liberation Sans", Arial, sans-serif' fill="#000" stroke="#000" stroke-width="0.25">-10</text>
<text x="28.7" y="48.6" font-size="9.3" text-anchor="end" font-family='"Liberation Sans", Arial, sans-serif' fill="#000" stroke="#000" stroke-width="0.25">-20</text>
<text x="28.7" y="69.3" font-size="9.3" text-anchor="end" font-family='"Liberation Sans", Arial, sans-serif' fill="#000" stroke="#000" stroke-width="0.25">-30</text>
<text x="28.7" y="90.0" font-size="9.3" text-anchor="end" font-family='"Liberation Sans", Arial, sans-serif' fill="#000" stroke="#000" stroke-width="0.25">-40</text>
<text x="28.7" y="110.6" font-size="9.3" text-anchor="end" font-family='"Liberation Sans", Arial, sans-serif' fill="#000" stroke="#000" stroke-width="0.25">-50</text>
<text x="28.7" y="131.3" font-size="9.3" text-anchor="end" font-family='"Liberation Sans", Arial, sans-serif' fill="#000" stroke="#000" stroke-width="0.25">-60</text>
<text x="28.7" y="151.9" font-size="9.3" text-anchor="end" font-family='"Liberation Sans", Arial, sans-serif' fill="#000" stroke="#000" stroke-width="0.25">-70</text>
<text x="28.7" y="172.6" font-size="9.3" text-anchor="end" font-family='"Liberation Sans", Arial, sans-serif' fill="#000" stroke="#000" stroke-width="0.25">-80</text>
<text x="32.8" y="180.4" font-size="9.3" text-anchor="middle" font-family='"Liberation Sans", Arial, sans-serif' fill="#000" stroke="#000" stroke-width="0.25">0</text>
<text x="68.0" y="180.4" font-size="9.3" text-anchor="middle" font-family='"Liberation Sans", Arial, sans-serif' fill="#000" stroke="#000" stroke-width="0.25">1</text>
<text x="103.2" y="180.4" font-size="9.3" text-anchor="middle" font-family='"Liberation Sans", Arial, sans-serif' fill="#000" stroke="#000" stroke-width="0.25">2</text>
<text x="138.3" y="180.4" font-size="9.3" text-anchor="middle" font-family='"Liberation Sans", Arial, sans-serif' fill="#000" stroke="#000" stroke-width="0.25">3</text>
<text x="173.5" y="180.4" font-size="9.3" text-anchor="middle" font-family='"Liberation Sans", Arial, sans-serif' fill="#000" stroke="#000" stroke-width="0.25">4</text>
<text x="208.7" y="180.4" font-size="9.3" text-anchor="middle" font-family='"Liberation Sans", Arial, sans-serif' fill="#000" stroke="#000" stroke-width="0.25">5</text>
<text x="243.9" y="180.4" font-size="9.3" text-anchor="middle" font-family='"Liberation Sans", Arial, sans-serif' fill="#000" stroke="#000" stroke-width="0.25">6</text>
<text x="147.6" y="190.1" font-size="9.6" text-anchor="middle" font-family='"Liberation Sans", Arial, sans-serif' fill="#000" stroke="#000" stroke-width="0.25">Frequency (GHz)</text>
<text x="7.8" y="80.1" font-size="9.6" text-anchor="middle" font-family='"Liberation Sans", Arial, sans-serif' fill="#000" stroke="#000" stroke-width="0.25" transform="rotate(-90 7.8 80.1)">S-parameters (dB)</text>
<text x="127.8" y="202.0" font-size="10.5" text-anchor="middle" font-family='"Liberation Serif", "Times New Roman", serif' fill="#000" stroke="#000" stroke-width="0.25">(a)</text>
<polyline points="79.5,118.6 95.5,118.6" fill="none" stroke="#ee1010" stroke-width="0.9" stroke-linejoin="round"/>
<text x="101.8" y="122.0" font-size="9.6" text-anchor="start" font-family='"Liberation Sans", Arial, sans-serif' fill="#000" stroke="#000" stroke-width="0.25">Measured |S<tspan font-size="6.5" stroke-width="0.12" dy="2">21</tspan><tspan dy="-2">|</tspan></text>
<polyline points="79.5,131.6 95.5,131.6" fill="none" stroke="#ee1010" stroke-width="0.9" stroke-linejoin="round" stroke-dasharray="3.5,1.8"/>
<text x="101.8" y="135.0" font-size="9.6" text-anchor="start" font-family='"Liberation Sans", Arial, sans-serif' fill="#000" stroke="#000" stroke-width="0.25">Measured |S<tspan font-size="6.5" stroke-width="0.12" dy="2">11</tspan><tspan dy="-2">|</tspan></text>
<polyline points="79.5,144.4 95.5,144.4" fill="none" stroke="#0cd90c" stroke-width="0.9" stroke-linejoin="round"/>
<text x="101.8" y="147.8" font-size="9.6" text-anchor="start" font-family='"Liberation Sans", Arial, sans-serif' fill="#000" stroke="#000" stroke-width="0.25">Simulated |S<tspan font-size="6.5" stroke-width="0.12" dy="2">21</tspan><tspan dy="-2">|</tspan></text>
<polyline points="79.5,157.3 95.5,157.3" fill="none" stroke="#0cd90c" stroke-width="0.9" stroke-linejoin="round" stroke-dasharray="1,1"/>
<text x="101.8" y="160.7" font-size="9.6" text-anchor="start" font-family='"Liberation Sans", Arial, sans-serif' fill="#000" stroke="#000" stroke-width="0.25">Simulated |S<tspan font-size="6.5" stroke-width="0.12" dy="2">11</tspan><tspan dy="-2">|</tspan></text>
<polyline points="312.5,202.0 312.9,200.9 313.3,199.8 313.7,198.6 314.1,197.5 314.5,196.4 314.9,195.3 315.3,194.1 315.7,193.0 316.1,191.9 316.5,190.8 316.9,189.7 317.3,188.5 317.7,187.4 318.1,186.3 318.5,185.1 318.9,184.0 319.3,182.9 319.7,181.8 320.1,180.6 320.5,179.5 320.9,178.4 321.4,177.3 321.8,176.1 322.2,175.0 322.6,173.9 323.0,172.7 323.4,171.6 323.8,170.5 324.2,169.3 324.5,168.4 324.6,168.2 325.0,167.1 325.4,165.9 325.8,164.8 326.2,163.7 326.6,162.5 327.0,161.4 327.4,160.3 327.8,159.1 328.2,158.0 328.6,156.9 329.0,155.7 329.4,154.6 329.8,153.5 330.2,152.3 330.6,151.2 331.0,150.0 331.4,148.9 331.8,147.8 332.2,146.6 332.6,145.5 333.0,144.3 333.4,143.2 333.8,142.0 334.2,140.9 334.6,139.8 335.0,138.6 335.4,137.5 335.8,136.3 336.2,135.2 336.3,135.0 336.6,134.0 337.0,132.9 337.4,131.7 337.8,130.6 338.2,129.4 338.6,128.3 339.1,127.1 339.5,126.0 339.9,124.8 340.3,123.7 340.7,122.5 341.1,121.4 341.5,120.2 341.9,119.1 342.3,117.9 342.7,116.8 343.1,115.6 343.5,114.5 343.9,113.3 344.3,112.1 344.7,111.0 345.1,109.8 345.5,108.7 345.9,107.5 346.3,106.4 346.7,105.2 347.1,104.0 347.5,102.9 347.9,101.7 348.3,100.6 348.5,100.0 348.7,99.4 349.1,98.3 349.5,97.1 349.9,96.0 350.3,94.8 350.7,93.7 351.1,92.6 351.5,91.5 351.9,90.3 352.3,89.2 352.7,88.0 353.1,86.9 353.5,85.7 353.9,84.5 354.3,83.3 354.7,82.1 355.1,80.8 355.4,80.0 355.5,79.5 355.9,78.2 356.4,76.9 356.8,75.6 357.2,74.2 357.6,72.8 358.0,71.4 358.4,70.0 358.8,68.6 359.2,67.1 359.6,65.6 360.0,64.1 360.0,64.0 360.4,62.6 360.8,60.9 361.2,59.3 361.6,57.6 362.0,55.9 362.4,54.2 362.8,52.5 363.2,50.8 363.4,50.0 363.6,49.2 364.0,47.7 364.4,46.1 364.8,44.6 365.2,43.0 365.6,41.5 366.0,40.1 366.4,38.6 366.8,37.2 367.0,36.5 367.2,35.8 367.6,34.3 368.0,32.9 368.4,31.5 368.8,30.2 369.2,28.9 369.6,27.7 369.9,27.0 370.0,26.7 370.4,25.6 370.8,24.6 371.2,23.7 371.6,22.8 372.0,21.9 372.4,21.1 372.8,20.4 373.2,19.8 373.2,19.7 373.6,19.1 374.1,18.5 374.5,17.9 374.9,17.4 375.3,16.9 375.7,16.5 376.1,16.1 376.5,15.8 376.5,15.8 376.9,15.6 377.3,15.4 377.7,15.2 378.1,15.0 378.5,14.8 378.9,14.6 379.3,14.5 379.7,14.4 380.1,14.3 380.5,14.2 380.9,14.2 381.0,14.2 381.3,14.2 381.7,14.2 382.1,14.2 382.5,14.3 382.9,14.3 383.3,14.3 383.7,14.4 384.1,14.4 384.5,14.5 384.9,14.5 385.3,14.6 385.7,14.7 386.1,14.7 386.5,14.8 386.9,14.8 387.3,14.9 387.7,15.0 388.0,15.0 388.1,15.0 388.5,15.1 388.9,15.1 389.3,15.2 389.7,15.3 390.1,15.3 390.5,15.4 390.9,15.5 391.4,15.5 391.8,15.6 392.2,15.7 392.6,15.8 393.0,15.8 393.4,15.9 393.8,15.9 394.2,16.0 394.3,16.0 394.6,16.0 395.0,16.1 395.4,16.1 395.8,16.1 396.2,16.2 396.6,16.2 397.0,16.2 397.4,16.3 397.8,16.3 398.2,16.3 398.6,16.3 399.0,16.4 399.4,16.4 399.8,16.4 400.2,16.5 400.6,16.5 401.0,16.6 401.0,16.6 401.4,16.7 401.8,16.8 402.2,16.9 402.6,17.0 403.0,17.1 403.4,17.3 403.8,17.4 404.2,17.6 404.4,17.7 404.6,17.8 405.0,18.1 405.4,18.5 405.8,18.9 406.2,19.4 406.6,19.9 407.0,20.5 407.4,21.1 407.8,21.7 408.2,22.3 408.7,22.9 408.9,23.3 409.1,23.5 409.5,24.2 409.9,24.9 410.3,25.6 410.7,26.3 411.1,27.1 411.5,27.9 411.9,28.7 412.3,29.6 412.7,30.4 413.1,31.2 413.5,32.1 413.5,32.1 413.9,32.9 414.3,33.7 414.7,34.5 415.1,35.4 415.5,36.2 415.9,37.1 416.3,37.9 416.7,38.8 417.1,39.7 417.5,40.7 417.9,41.6 418.1,42.1 418.3,42.6 418.7,43.6 419.1,44.7 419.5,45.7 419.9,46.8 420.3,47.9 420.7,49.0 421.1,50.2 421.5,51.4 421.9,52.5 422.3,53.7 422.7,54.9 422.9,55.4 423.1,56.1 423.5,57.3 423.9,58.6 424.3,59.9 424.7,61.2 425.1,62.6 425.5,63.9 425.9,65.3 426.4,66.6 426.8,67.9 427.2,69.2 427.6,70.5 428.0,71.8 428.4,73.0 428.4,73.1 428.8,74.2 429.2,75.3 429.6,76.4 430.0,77.4 430.4,78.5 430.8,79.6 430.9,80.0 431.2,80.8 431.6,82.0 432.0,83.2 432.4,84.4 432.8,85.6 433.2,86.8 433.6,88.0 434.0,89.3 434.4,90.5 434.8,91.8 435.2,93.0 435.6,94.2 436.0,95.5 436.4,96.7 436.8,97.9 437.2,99.1 437.5,100.0 437.6,100.3 438.0,101.5 438.4,102.7 438.8,103.9 439.2,105.1 439.6,106.3 440.0,107.5 440.4,108.7 440.8,109.9 441.2,111.1 441.6,112.3 442.0,113.4 442.4,114.6 442.8,115.8 443.2,117.0 443.7,118.2 444.1,119.3 444.5,120.5 444.9,121.7 445.3,122.8 445.7,124.0 446.1,125.2 446.5,126.4 446.9,127.5 447.3,128.7 447.7,129.9 448.1,131.0 448.5,132.2 448.9,133.4 449.3,134.5 449.7,135.7 450.0,136.6 450.1,136.9 450.5,138.0 450.9,139.2 451.3,140.3 451.7,141.5 452.1,142.6 452.5,143.8 452.9,145.0 453.3,146.1 453.7,147.3 454.1,148.4 454.5,149.6 454.9,150.7 455.3,151.9 455.7,153.0 456.1,154.1 456.5,155.3 456.9,156.4 457.3,157.6 457.7,158.7 458.1,159.9 458.5,161.0 458.9,162.2 459.3,163.3 459.7,164.5 460.1,165.6 460.5,166.7 460.9,167.9 461.2,168.6 461.4,169.0 461.8,170.2 462.2,171.3 462.6,172.5 463.0,173.6 463.4,174.8 463.8,175.9 464.2,177.0 464.6,178.2 465.0,179.3 465.4,180.5 465.8,181.6 466.2,182.7 466.6,183.9 467.0,185.0 467.4,186.2 467.8,187.3 468.2,188.4 468.6,189.6 469.0,190.7 469.4,191.9 469.8,193.0" fill="none" stroke="#ee1010" stroke-width="1" stroke-linejoin="round" clip-path="url(#cb)"/>
<polyline points="310.0,202.0 310.4,200.9 310.8,199.7 311.2,198.6 311.6,197.4 312.0,196.3 312.4,195.1 312.8,194.0 313.2,192.9 313.6,191.7 314.0,190.6 314.4,189.4 314.8,188.3 315.2,187.2 315.6,186.0 316.0,184.9 316.4,183.7 316.8,182.6 317.2,181.5 317.6,180.3 318.0,179.2 318.4,178.0 318.8,176.9 319.2,175.8 319.6,174.6 320.0,173.5 320.4,172.4 320.8,171.2 321.2,170.1 321.6,168.9 321.8,168.4 322.0,167.8 322.4,166.7 322.8,165.5 323.2,164.4 323.6,163.3 324.0,162.2 324.4,161.0 324.8,159.9 325.2,158.8 325.6,157.6 326.0,156.5 326.4,155.4 326.8,154.3 327.2,153.1 327.6,152.0 328.0,150.9 328.4,149.7 328.8,148.6 329.2,147.5 329.6,146.4 330.0,145.2 330.4,144.1 330.8,143.0 331.2,141.8 331.6,140.7 332.0,139.5 332.4,138.4 332.8,137.3 333.2,136.1 333.6,135.0 333.6,135.0 334.0,133.8 334.4,132.7 334.8,131.5 335.2,130.4 335.6,129.2 336.0,128.0 336.4,126.9 336.8,125.7 337.2,124.6 337.6,123.4 338.0,122.3 338.4,121.1 338.8,119.9 339.2,118.8 339.6,117.6 340.0,116.4 340.4,115.3 340.8,114.1 341.2,112.9 341.6,111.8 342.0,110.6 342.4,109.4 342.8,108.2 343.2,107.0 343.6,105.9 344.0,104.7 344.4,103.5 344.8,102.3 345.2,101.1 345.6,100.0 345.6,99.9 346.0,98.7 346.4,97.6 346.8,96.4 347.2,95.2 347.6,94.0 348.0,92.8 348.4,91.6 348.8,90.4 349.2,89.2 349.6,88.0 350.0,86.7 350.4,85.5 350.8,84.3 351.2,83.0 351.6,81.8 352.0,80.5 352.2,80.0 352.4,79.3 352.8,78.0 353.2,76.7 353.6,75.4 354.0,74.2 354.4,72.9 354.8,71.5 355.2,70.2 355.6,68.9 356.0,67.6 356.4,66.3 356.8,64.9 357.2,63.6 357.6,62.3 358.0,60.9 358.3,60.0 358.4,59.6 358.8,58.2 359.2,56.8 359.6,55.5 360.0,54.1 360.4,52.7 360.8,51.3 361.2,49.9 361.6,48.5 362.0,47.1 362.4,45.7 362.8,44.3 363.2,43.0 363.6,41.6 364.0,40.2 364.1,40.0 364.4,38.9 364.8,37.5 365.2,36.1 365.6,34.7 366.0,33.3 366.4,31.9 366.8,30.6 367.2,29.3 367.6,28.0 368.0,26.7 368.4,25.5 368.6,25.0 368.8,24.3 369.2,23.1 369.6,21.9 370.0,20.8 370.4,19.7 370.8,18.6 371.2,17.6 371.6,16.7 372.0,15.9 372.1,15.8 372.4,15.2 372.8,14.5 373.2,13.8 373.6,13.2 374.0,12.6 374.4,12.1 374.8,11.7 375.2,11.3 375.4,11.2 375.6,11.0 376.0,10.8 376.4,10.5 376.8,10.3 377.2,10.1 377.6,9.9 378.0,9.7 378.4,9.5 378.8,9.4 379.2,9.3 379.6,9.3 379.8,9.3 380.0,9.3 380.4,9.3 380.8,9.3 381.2,9.4 381.6,9.4 382.0,9.5 382.4,9.5 382.8,9.6 383.2,9.7 383.6,9.8 384.0,9.8 384.4,9.9 384.8,10.0 385.2,10.1 385.6,10.1 386.0,10.2 386.0,10.2 386.4,10.3 386.8,10.4 387.2,10.5 387.6,10.6 388.0,10.7 388.4,10.8 388.8,10.9 389.2,11.0 389.6,11.1 390.0,11.3 390.5,11.4 390.9,11.5 391.3,11.6 391.7,11.7 392.1,11.8 392.5,11.8 392.9,11.9 393.3,11.9 393.7,12.0 394.1,12.0 394.3,12.0 394.5,12.0 394.9,12.0 395.3,12.0 395.7,11.9 396.1,11.9 396.5,11.9 396.9,11.8 397.3,11.8 397.7,11.7 398.1,11.6 398.5,11.6 398.9,11.5 399.3,11.4 399.7,11.4 400.1,11.3 400.5,11.2 400.9,11.1 401.0,11.1 401.3,11.0 401.7,10.9 402.1,10.8 402.5,10.7 402.9,10.6 403.3,10.4 403.7,10.3 404.1,10.2 404.5,10.1 404.9,10.0 405.3,9.9 405.5,9.9 405.7,9.9 406.1,9.9 406.5,9.8 406.9,9.8 407.3,9.8 407.7,9.8 408.1,9.8 408.3,9.8 408.5,9.8 408.9,9.9 409.3,10.2 409.7,10.5 410.1,10.8 410.5,11.2 410.6,11.3 410.9,11.6 411.3,12.0 411.7,12.6 412.1,13.2 412.4,13.8 412.5,13.9 412.9,14.7 413.3,15.5 413.7,16.4 414.1,17.4 414.5,18.4 414.9,19.4 415.3,20.5 415.7,21.5 416.1,22.6 416.5,23.6 416.8,24.4 416.9,24.6 417.3,25.5 417.7,26.4 418.1,27.3 418.5,28.2 418.9,29.2 419.3,30.1 419.7,31.0 420.1,32.0 420.5,32.9 420.9,34.0 421.3,35.0 421.4,35.4 421.7,36.2 422.1,37.4 422.5,38.6 422.9,39.9 423.3,41.3 423.7,42.6 424.1,44.0 424.5,45.4 424.9,46.8 425.3,48.2 425.7,49.6 426.1,50.9 426.1,51.0 426.5,52.2 426.9,53.5 427.3,54.8 427.7,56.1 428.1,57.3 428.5,58.6 428.9,59.8 429.3,61.1 429.7,62.4 430.1,63.7 430.5,65.0 430.9,66.3 431.3,67.6 431.6,68.7 431.7,69.0 432.1,70.3 432.5,71.7 432.9,73.2 433.3,74.6 433.7,76.0 434.1,77.4 434.5,78.9 434.8,80.0 434.9,80.3 435.3,81.7 435.7,83.1 436.1,84.5 436.5,85.9 436.9,87.2 437.3,88.6 437.7,90.0 438.1,91.4 438.5,92.8 438.9,94.1 439.3,95.5 439.7,96.9 440.1,98.2 440.5,99.6 440.6,100.0 440.9,101.0 441.3,102.3 441.7,103.7 442.1,105.0 442.5,106.4 442.9,107.7 443.3,109.0 443.7,110.4 444.1,111.7 444.5,113.1 444.9,114.4 445.3,115.7 445.7,117.1 446.1,118.4 446.5,119.7 446.9,121.0 447.3,122.4 447.7,123.7 448.1,125.0 448.5,126.3 448.9,127.6 449.3,128.9 449.7,130.2 450.1,131.5 450.5,132.8 450.9,134.0 451.3,135.3 451.7,136.6 451.7,136.6 452.1,137.8 452.5,139.1 452.9,140.3 453.3,141.6 453.7,142.8 454.1,144.0 454.5,145.2 454.9,146.5 455.3,147.7 455.7,148.9 456.1,150.1 456.5,151.3 456.9,152.5 457.3,153.7 457.7,154.9 458.1,156.1 458.5,157.3 458.9,158.4 459.3,159.6 459.7,160.8 460.1,162.0 460.5,163.2 460.9,164.4 461.3,165.6 461.7,166.8 462.1,168.0 462.3,168.6 462.5,169.2 462.9,170.4 463.3,171.6 463.7,172.8 464.1,174.0 464.5,175.2 464.9,176.4 465.3,177.6 465.7,178.7 466.1,179.9 466.5,181.1 466.9,182.3 467.3,183.5 467.7,184.7 468.1,185.9 468.5,187.1 468.9,188.3 469.3,189.4 469.7,190.6 470.1,191.8 470.5,193.0" fill="none" stroke="#0cd90c" stroke-width="1" stroke-linejoin="round" clip-path="url(#cb)"/>
<polyline points="302.2,6.2 302.6,6.2 303.0,6.2 303.4,6.2 303.8,6.2 304.2,6.2 304.6,6.2 305.0,6.2 305.4,6.2 305.8,6.2 306.2,6.2 306.6,6.2 307.0,6.2 307.4,6.2 307.8,6.2 308.2,6.2 308.6,6.2 309.0,6.2 309.4,6.2 309.8,6.2 310.2,6.2 310.6,6.2 311.0,6.2 311.4,6.2 311.8,6.2 312.2,6.2 312.6,6.2 313.0,6.2 313.4,6.2 313.8,6.2 314.2,6.2 314.6,6.3 315.0,6.3 315.4,6.3 315.8,6.3 316.2,6.3 316.6,6.3 317.0,6.3 317.4,6.3 317.8,6.3 318.2,6.3 318.6,6.3 319.0,6.3 319.4,6.3 319.8,6.3 320.0,6.3 320.2,6.3 320.6,6.3 321.0,6.3 321.4,6.3 321.9,6.3 322.3,6.3 322.7,6.4 323.1,6.4 323.5,6.4 323.9,6.4 324.3,6.4 324.7,6.4 325.1,6.4 325.5,6.5 325.9,6.5 326.3,6.5 326.7,6.5 327.1,6.5 327.5,6.6 327.9,6.6 328.3,6.6 328.7,6.6 329.1,6.6 329.5,6.7 329.9,6.7 330.3,6.7 330.7,6.7 331.1,6.8 331.5,6.8 331.9,6.8 332.3,6.9 332.7,6.9 333.0,6.9 333.1,6.9 333.5,6.9 333.9,7.0 334.3,7.0 334.7,7.0 335.1,7.1 335.5,7.1 335.9,7.1 336.3,7.2 336.7,7.2 337.1,7.3 337.5,7.3 337.9,7.3 338.3,7.4 338.7,7.4 339.1,7.5 339.5,7.5 339.9,7.6 340.3,7.6 340.7,7.7 341.1,7.8 341.5,7.8 341.9,7.9 342.0,7.9 342.3,7.9 342.7,8.0 343.1,8.1 343.5,8.2 343.9,8.2 344.3,8.3 344.7,8.4 345.1,8.5 345.5,8.6 345.9,8.7 346.3,8.8 346.7,8.9 347.1,9.0 347.5,9.2 347.9,9.3 348.3,9.4 348.7,9.6 348.8,9.6 349.1,9.7 349.5,9.9 349.9,10.1 350.3,10.4 350.7,10.6 351.1,10.9 351.5,11.2 351.9,11.6 352.3,11.9 352.7,12.3 353.0,12.5 353.1,12.6 353.5,13.0 353.9,13.5 354.3,14.0 354.7,14.5 355.1,15.1 355.5,15.7 355.9,16.3 356.3,16.9 356.7,17.5 357.1,18.1 357.5,18.7 357.6,18.8 357.9,19.3 358.3,19.9 358.7,20.5 359.1,21.1 359.5,21.8 359.9,22.4 360.4,23.1 360.8,23.7 361.2,24.4 361.6,25.2 362.0,25.9 362.0,26.0 362.4,26.7 362.8,27.5 363.2,28.3 363.6,29.1 364.0,30.0 364.4,30.9 364.8,31.8 365.2,32.8 365.6,33.9 366.0,35.0 366.4,36.1 366.5,36.5 366.8,37.3 367.2,38.6 367.6,40.0 368.0,41.4 368.4,43.0 368.8,44.6 369.2,46.3 369.6,48.1 370.0,50.0 370.4,52.0 370.8,54.2 371.0,55.4 371.2,56.4 371.6,58.9 372.0,61.6 372.4,64.5 372.8,67.6 373.2,71.0 373.6,74.7 374.0,78.7 374.3,82.0 374.4,83.0 374.8,88.2 375.2,94.3 375.6,101.0 376.0,108.1 376.4,115.1 376.8,121.8 377.0,125.0 377.2,127.9 377.6,133.8 378.0,139.6 378.4,145.3 378.8,150.9 379.2,156.4 379.6,152.5 380.0,148.6 380.4,144.8 380.9,140.9 381.3,137.1 381.5,135.0 381.7,133.2 382.1,129.1 382.5,125.0 382.9,120.9 383.4,117.1 383.8,113.7 384.0,112.0 384.2,110.8 384.6,108.2 385.0,105.7 385.4,103.4 385.8,101.3 386.3,99.4 386.7,97.7 386.9,96.9 387.1,96.3 387.5,94.9 387.9,93.6 388.3,92.4 388.7,91.4 389.2,90.6 389.5,90.0 389.6,89.9 390.0,89.3 390.4,88.7 390.8,88.2 391.2,87.8 391.7,87.4 392.1,87.1 392.5,86.9 392.5,86.9 392.9,86.7 393.3,86.6 393.7,86.5 394.1,86.4 394.6,86.3 395.0,86.2 395.4,86.1 395.8,86.0 396.2,86.0 396.6,85.9 397.0,85.8 397.1,85.8 397.5,85.7 397.9,85.6 398.3,85.6 398.7,85.5 399.1,85.5 399.5,85.4 400.0,85.3 400.4,85.2 400.8,85.1 401.0,85.0 401.2,84.9 401.6,84.5 402.0,83.9 402.4,83.2 402.9,82.3 403.3,81.5 403.5,81.0 403.7,80.6 404.1,79.6 404.5,78.5 404.9,77.3 405.4,76.0 405.8,74.6 406.2,73.2 406.6,71.7 406.7,71.3 407.0,70.0 407.4,68.1 407.8,65.9 408.3,63.7 408.7,61.4 409.1,59.2 409.5,57.1 409.9,55.4 409.9,55.3 410.3,53.7 410.8,52.1 411.2,50.6 411.6,49.2 412.0,47.8 412.4,46.4 412.8,45.1 413.2,43.9 413.7,42.6 414.1,41.4 414.5,40.2 414.9,39.1 415.3,37.9 415.4,37.7 415.7,36.8 416.1,35.7 416.6,34.5 417.0,33.4 417.4,32.3 417.8,31.2 418.2,30.2 418.6,29.2 419.1,28.2 419.5,27.3 419.9,26.4 420.3,25.6 420.7,24.9 421.0,24.4 421.1,24.2 421.5,23.6 422.0,22.9 422.4,22.3 422.8,21.8 423.2,21.2 423.6,20.7 424.0,20.2 424.5,19.7 424.9,19.2 425.3,18.8 425.7,18.3 426.1,17.9 426.5,17.5 426.9,17.2 427.4,16.8 427.6,16.6 427.8,16.5 428.2,16.1 428.6,15.8 429.0,15.5 429.4,15.1 429.8,14.8 430.3,14.5 430.7,14.2 431.1,14.0 431.5,13.7 431.9,13.4 432.3,13.1 432.8,12.9 433.2,12.7 433.6,12.4 434.0,12.2 434.4,12.0 434.8,11.8 435.2,11.6 435.7,11.4 436.1,11.3 436.5,11.1 436.5,11.1 436.9,11.0 437.3,10.8 437.7,10.7 438.2,10.5 438.6,10.4 439.0,10.3 439.4,10.2 439.8,10.0 440.2,9.9 440.6,9.8 441.1,9.7 441.5,9.6 441.9,9.5 442.3,9.4 442.7,9.3 443.1,9.2 443.5,9.1 444.0,9.0 444.4,8.9 444.8,8.8 445.2,8.8 445.6,8.7 446.0,8.6 446.5,8.6 446.9,8.5 447.3,8.4 447.6,8.4 447.7,8.4 448.1,8.3 448.5,8.3 448.9,8.2 449.4,8.2 449.8,8.1 450.2,8.1 450.6,8.0 451.0,8.0 451.4,8.0 451.9,7.9 452.3,7.9 452.7,7.8 453.1,7.8 453.5,7.8 453.9,7.7 454.3,7.7 454.8,7.6 455.2,7.6 455.6,7.6 456.0,7.6 456.4,7.5 456.8,7.5 457.2,7.5 457.7,7.4 458.1,7.4 458.5,7.4 458.9,7.4 459.3,7.3 459.7,7.3 460.0,7.3 460.2,7.3 460.6,7.3 461.0,7.2 461.4,7.2 461.8,7.2 462.2,7.2 462.6,7.2 463.1,7.1 463.5,7.1 463.9,7.1 464.3,7.1 464.7,7.1 465.1,7.1 465.6,7.0 466.0,7.0 466.4,7.0 466.8,7.0 467.2,7.0 467.6,7.0 468.0,6.9 468.5,6.9 468.9,6.9 469.3,6.9 469.7,6.9 470.1,6.9 470.5,6.8 470.9,6.8 471.4,6.8 471.8,6.8 472.2,6.8 472.6,6.8 473.0,6.8 473.4,6.8 473.9,6.7 474.3,6.7 474.7,6.7 475.1,6.7 475.5,6.7 475.9,6.7 476.3,6.7 476.8,6.7 477.2,6.7 477.6,6.6 478.0,6.6 478.4,6.6 478.8,6.6 479.3,6.6 479.7,6.6 480.0,6.6 480.1,6.6 480.5,6.6 480.9,6.6 481.3,6.6 481.7,6.6 482.2,6.6 482.6,6.6 483.0,6.5 483.4,6.5 483.8,6.5 484.2,6.5 484.6,6.5 485.1,6.5 485.5,6.5 485.9,6.5 486.3,6.5 486.7,6.5 487.1,6.5 487.6,6.5 488.0,6.5 488.4,6.5 488.8,6.5 489.2,6.4 489.6,6.4 490.0,6.4 490.5,6.4 490.9,6.4 491.3,6.4 491.7,6.4 492.1,6.4 492.5,6.4 493.0,6.4 493.4,6.4 493.8,6.4 494.2,6.4 494.6,6.4 495.0,6.4 495.4,6.4 495.9,6.3 496.3,6.3 496.7,6.3 497.1,6.3 497.5,6.3 497.9,6.3 498.3,6.3 498.8,6.3 499.2,6.3 499.6,6.3 500.0,6.3 500.4,6.3 500.8,6.3 501.3,6.3 501.7,6.3 502.1,6.3 502.5,6.3 502.9,6.3 503.3,6.3 503.7,6.3 504.2,6.3 504.6,6.3 505.0,6.2 505.4,6.2 505.8,6.2 506.2,6.2 506.7,6.2 507.1,6.2 507.5,6.2 507.9,6.2 508.3,6.2 508.7,6.2 509.1,6.2 509.6,6.2 510.0,6.2 510.4,6.2 510.8,6.2 511.2,6.2 511.6,6.2 512.0,6.2 512.5,6.2 512.9,6.2 513.3,6.2 513.7,6.2 514.1,6.2 514.5,6.2 515.0,6.2 515.4,6.2 515.8,6.2 516.2,6.2" fill="none" stroke="#ee1010" stroke-width="1" stroke-linejoin="round" stroke-dasharray="5,2.5" clip-path="url(#cb)"/>
<polyline points="302.2,4.7 302.6,4.7 303.0,4.7 303.4,4.7 303.8,4.7 304.2,4.7 304.6,4.7 305.1,4.7 305.5,4.7 305.9,4.7 306.3,4.7 306.7,4.7 307.1,4.7 307.5,4.7 307.9,4.7 308.3,4.7 308.7,4.7 309.1,4.7 309.5,4.7 309.9,4.7 310.3,4.7 310.8,4.7 311.2,4.7 311.6,4.7 312.0,4.7 312.4,4.7 312.8,4.7 313.2,4.8 313.6,4.8 314.0,4.8 314.4,4.8 314.8,4.8 315.2,4.8 315.6,4.8 316.1,4.8 316.5,4.8 316.9,4.8 317.3,4.8 317.7,4.8 318.1,4.8 318.5,4.8 318.9,4.8 319.3,4.8 319.7,4.8 320.1,4.8 320.5,4.8 320.9,4.8 321.3,4.8 321.8,4.9 322.2,4.9 322.6,4.9 323.0,4.9 323.4,4.9 323.8,4.9 324.2,4.9 324.6,4.9 325.0,4.9 325.0,4.9 325.4,4.9 325.8,4.9 326.2,4.9 326.6,4.9 327.1,4.9 327.5,4.9 327.9,5.0 328.3,5.0 328.7,5.0 329.1,5.0 329.5,5.0 329.9,5.0 330.3,5.0 330.7,5.1 331.1,5.1 331.5,5.1 331.9,5.1 332.3,5.1 332.8,5.1 333.2,5.2 333.6,5.2 334.0,5.2 334.4,5.2 334.8,5.2 335.2,5.3 335.6,5.3 336.0,5.3 336.4,5.3 336.8,5.4 337.2,5.4 337.6,5.4 338.1,5.5 338.5,5.5 338.9,5.5 339.3,5.5 339.7,5.6 340.0,5.6 340.1,5.6 340.5,5.6 340.9,5.7 341.3,5.7 341.7,5.8 342.1,5.8 342.5,5.9 342.9,6.0 343.3,6.0 343.8,6.1 344.2,6.2 344.6,6.3 345.0,6.4 345.4,6.5 345.8,6.6 346.2,6.7 346.6,6.8 347.0,6.9 347.4,7.0 347.8,7.1 348.0,7.2 348.2,7.3 348.6,7.4 349.1,7.6 349.5,7.8 349.9,8.1 350.3,8.3 350.7,8.6 351.1,8.9 351.5,9.2 351.9,9.5 352.3,9.9 352.7,10.2 353.0,10.5 353.1,10.6 353.5,11.1 353.9,11.6 354.3,12.1 354.8,12.7 355.2,13.4 355.6,14.0 356.0,14.7 356.4,15.4 356.8,16.1 357.2,16.8 357.6,17.5 357.6,17.5 358.0,18.2 358.4,18.9 358.8,19.6 359.2,20.3 359.6,21.0 360.1,21.7 360.5,22.5 360.9,23.2 361.3,24.0 361.7,24.8 362.0,25.5 362.1,25.7 362.5,26.5 362.9,27.4 363.3,28.3 363.7,29.2 364.1,30.1 364.5,31.1 364.9,32.1 365.3,33.2 365.8,34.3 366.2,35.5 366.5,36.5 366.6,36.7 367.0,38.0 367.4,39.4 367.8,40.9 368.2,42.5 368.6,44.1 369.0,45.9 369.4,47.7 369.8,49.7 370.2,51.8 370.6,54.0 371.0,56.0 371.1,56.3 371.5,58.8 371.9,61.6 372.3,64.7 372.7,68.0 373.1,71.6 373.5,75.5 373.9,79.7 374.3,84.0 374.3,84.1 374.7,89.3 375.1,95.5 375.5,102.3 375.9,109.5 376.3,116.8 376.8,123.9 377.0,128.0 377.2,130.6 377.6,137.2 378.0,143.8 378.4,150.4 378.8,157.0 379.2,163.5 379.6,157.5 380.0,151.7 380.4,145.9 380.8,140.4 381.2,135.0 381.2,135.0 381.6,129.5 382.0,124.1 382.4,118.8 382.8,114.1 383.2,110.0 383.2,109.9 383.6,106.4 384.0,103.1 384.4,100.1 384.8,97.4 385.2,95.0 385.4,94.0 385.6,93.0 386.0,91.1 386.4,89.4 386.8,87.9 387.2,86.5 387.6,85.2 388.0,84.0 388.0,84.0 388.4,82.8 388.8,81.7 389.2,80.6 389.6,79.7 390.0,78.8 390.4,78.0 390.8,77.3 391.0,77.0 391.2,76.7 391.6,76.1 392.0,75.6 392.4,75.1 392.8,74.6 393.2,74.2 393.6,73.8 394.0,73.5 394.4,73.4 394.8,73.3 394.8,73.3 395.2,73.4 395.6,73.6 396.0,73.9 396.4,74.4 396.8,74.8 397.2,75.4 397.6,76.0 398.0,76.5 398.0,76.5 398.4,77.2 398.8,78.1 399.2,79.0 399.6,80.1 400.0,81.2 400.4,82.4 400.8,83.5 401.0,84.0 401.2,84.7 401.6,85.9 402.0,87.1 402.4,88.4 402.8,89.8 403.2,91.1 403.6,92.4 404.0,93.6 404.4,94.8 404.5,95.0 404.8,96.0 405.2,97.3 405.6,98.6 406.0,99.9 406.4,101.2 406.8,102.3 407.2,103.1 407.6,103.7 408.0,104.0 408.1,104.0 408.4,103.6 408.8,102.5 409.2,100.7 409.6,98.6 410.0,96.4 410.3,95.0 410.4,94.2 410.8,91.7 411.2,88.9 411.6,85.8 412.0,82.6 412.4,79.8 412.4,79.4 412.8,76.2 413.2,72.8 413.7,69.4 414.1,65.9 414.5,62.4 414.5,62.0 414.9,58.8 415.3,54.9 415.7,51.1 416.1,47.6 416.5,44.6 416.5,44.3 416.9,42.1 417.3,39.8 417.7,37.6 418.1,35.6 418.5,33.7 418.9,32.0 419.3,30.5 419.7,29.2 419.8,28.8 420.1,28.1 420.5,27.0 420.9,26.0 421.3,25.0 421.7,24.1 422.1,23.2 422.5,22.4 422.9,21.7 423.3,21.0 423.7,20.3 424.1,19.6 424.5,19.0 424.9,18.4 425.3,17.9 425.4,17.7 425.7,17.3 426.1,16.8 426.5,16.3 426.9,15.8 427.3,15.4 427.7,14.9 428.1,14.5 428.5,14.1 428.9,13.7 429.3,13.3 429.7,12.9 430.1,12.6 430.5,12.2 430.9,11.9 431.3,11.6 431.7,11.3 432.0,11.1 432.1,11.0 432.5,10.8 432.9,10.5 433.3,10.3 433.7,10.1 434.1,9.8 434.5,9.6 434.9,9.4 435.3,9.2 435.7,9.0 436.1,8.8 436.5,8.6 436.9,8.4 437.3,8.3 437.7,8.1 438.1,8.0 438.5,7.9 438.7,7.8 438.9,7.7 439.3,7.6 439.7,7.5 440.1,7.4 440.5,7.3 440.9,7.2 441.3,7.1 441.7,7.0 442.1,6.9 442.5,6.8 442.9,6.7 443.3,6.7 443.7,6.6 444.1,6.5 444.5,6.4 444.9,6.4 445.3,6.3 445.7,6.2 446.1,6.2 446.5,6.1 446.9,6.1 447.3,6.0 447.6,6.0 447.7,6.0 448.1,5.9 448.5,5.9 448.9,5.9 449.3,5.8 449.7,5.8 450.1,5.7 450.5,5.7 450.9,5.7 451.3,5.6 451.7,5.6 452.1,5.6 452.5,5.5 452.9,5.5 453.3,5.5 453.7,5.4 454.1,5.4 454.5,5.4 454.9,5.3 455.3,5.3 455.7,5.3 456.1,5.3 456.5,5.2 456.9,5.2 457.3,5.2 457.7,5.2 458.1,5.2 458.5,5.1 458.9,5.1 459.3,5.1 459.7,5.1 460.0,5.1 460.1,5.1 460.5,5.1 460.9,5.1 461.3,5.1 461.7,5.1 462.1,5.0 462.5,5.0 462.9,5.0 463.3,5.0 463.7,5.0 464.1,5.0 464.5,5.0 464.9,5.0 465.3,5.0 465.7,5.0 466.1,5.0 466.5,5.0 466.9,4.9 467.3,4.9 467.7,4.9 468.1,4.9 468.5,4.9 468.9,4.9 469.3,4.9 469.7,4.9 470.1,4.9 470.5,4.9 470.9,4.9 471.3,4.9 471.7,4.9 472.1,4.9 472.5,4.9 472.9,4.9 473.3,4.9 473.7,4.8 474.1,4.8 474.5,4.8 474.9,4.8 475.3,4.8 475.7,4.8 476.1,4.8 476.5,4.8 476.9,4.8 477.3,4.8 477.7,4.8 478.1,4.8 478.5,4.8 478.9,4.8 479.3,4.8 479.7,4.8 480.0,4.8 480.1,4.8 480.5,4.8 480.9,4.8 481.3,4.8 481.7,4.8 482.2,4.8 482.6,4.8 483.0,4.8 483.4,4.8 483.8,4.8 484.2,4.8 484.6,4.8 485.0,4.8 485.4,4.8 485.8,4.8 486.2,4.8 486.6,4.8 487.0,4.8 487.4,4.8 487.8,4.8 488.2,4.8 488.6,4.8 489.0,4.8 489.4,4.8 489.8,4.8 490.2,4.8 490.6,4.8 491.0,4.8 491.4,4.7 491.8,4.7 492.2,4.7 492.6,4.7 493.0,4.7 493.4,4.7 493.8,4.7 494.2,4.7 494.6,4.7 495.0,4.7 495.4,4.7 495.8,4.7 496.2,4.7 496.6,4.7 497.0,4.7 497.4,4.7 497.8,4.7 498.2,4.7 498.6,4.7 499.0,4.7 499.4,4.7 499.8,4.7 500.2,4.7 500.6,4.7 501.0,4.7 501.4,4.7 501.8,4.7 502.2,4.7 502.6,4.7 503.0,4.7 503.4,4.7 503.8,4.7 504.2,4.7 504.6,4.7 505.0,4.7 505.4,4.7 505.8,4.7 506.2,4.7 506.6,4.7 507.0,4.7 507.4,4.7 507.8,4.7 508.2,4.7 508.6,4.7 509.0,4.7 509.4,4.7 509.8,4.7 510.2,4.7 510.6,4.7 511.0,4.7 511.4,4.7 511.8,4.7 512.2,4.7 512.6,4.7 513.0,4.7 513.4,4.7 513.8,4.7 514.2,4.7 514.6,4.7 515.0,4.7 515.4,4.7 515.8,4.7 516.2,4.7" fill="none" stroke="#0cd90c" stroke-width="1" stroke-linejoin="round" stroke-dasharray="1,1" clip-path="url(#cb)"/>
<text x="298.3" y="7.4" font-size="9.3" text-anchor="end" font-family='"Liberation Sans", Arial, sans-serif' fill="#000" stroke="#000" stroke-width="0.25">0</text>
<text x="298.3" y="23.1" font-size="9.3" text-anchor="end" font-family='"Liberation Sans", Arial, sans-serif' fill="#000" stroke="#000" stroke-width="0.25">-2</text>
<text x="298.3" y="38.8" font-size="9.3" text-anchor="end" font-family='"Liberation Sans", Arial, sans-serif' fill="#000" stroke="#000" stroke-width="0.25">-4</text>
<text x="298.3" y="54.5" font-size="9.3" text-anchor="end" font-family='"Liberation Sans", Arial, sans-serif' fill="#000" stroke="#000" stroke-width="0.25">-6</text>
<text x="298.3" y="70.2" font-size="9.3" text-anchor="end" font-family='"Liberation Sans", Arial, sans-serif' fill="#000" stroke="#000" stroke-width="0.25">-8</text>
<text x="298.3" y="85.9" font-size="9.3" text-anchor="end" font-family='"Liberation Sans", Arial, sans-serif' fill="#000" stroke="#000" stroke-width="0.25">-10</text>
<text x="298.3" y="101.5" font-size="9.3" text-anchor="end" font-family='"Liberation Sans", Arial, sans-serif' fill="#000" stroke="#000" stroke-width="0.25">-12</text>
<text x="298.3" y="117.2" font-size="9.3" text-anchor="end" font-family='"Liberation Sans", Arial, sans-serif' fill="#000" stroke="#000" stroke-width="0.25">-14</text>
<text x="298.3" y="132.9" font-size="9.3" text-anchor="end" font-family='"Liberation Sans", Arial, sans-serif' fill="#000" stroke="#000" stroke-width="0.25">-16</text>
<text x="298.3" y="148.6" font-size="9.3" text-anchor="end" font-family='"Liberation Sans", Arial, sans-serif' fill="#000" stroke="#000" stroke-width="0.25">-18</text>
<text x="298.3" y="164.3" font-size="9.3" text-anchor="end" font-family='"Liberation Sans", Arial, sans-serif' fill="#000" stroke="#000" stroke-width="0.25">-20</text>
<text x="302.7" y="180.4" font-size="9.3" text-anchor="middle" font-family='"Liberation Sans", Arial, sans-serif' fill="#000" stroke="#000" stroke-width="0.25">2</text>
<text x="324.0" y="180.4" font-size="9.3" text-anchor="middle" font-family='"Liberation Sans", Arial, sans-serif' fill="#000" stroke="#000" stroke-width="0.25">2.2</text>
<text x="345.3" y="180.4" font-size="9.3" text-anchor="middle" font-family='"Liberation Sans", Arial, sans-serif' fill="#000" stroke="#000" stroke-width="0.25">2.4</text>
<text x="366.6" y="180.4" font-size="9.3" text-anchor="middle" font-family='"Liberation Sans", Arial, sans-serif' fill="#000" stroke="#000" stroke-width="0.25">2.6</text>
<text x="387.9" y="180.4" font-size="9.3" text-anchor="middle" font-family='"Liberation Sans", Arial, sans-serif' fill="#000" stroke="#000" stroke-width="0.25">2.8</text>
<text x="409.2" y="180.4" font-size="9.3" text-anchor="middle" font-family='"Liberation Sans", Arial, sans-serif' fill="#000" stroke="#000" stroke-width="0.25">3</text>
<text x="430.5" y="180.4" font-size="9.3" text-anchor="middle" font-family='"Liberation Sans", Arial, sans-serif' fill="#000" stroke="#000" stroke-width="0.25">3.2</text>
<text x="451.8" y="180.4" font-size="9.3" text-anchor="middle" font-family='"Liberation Sans", Arial, sans-serif' fill="#000" stroke="#000" stroke-width="0.25">3.4</text>
<text x="473.1" y="180.4" font-size="9.3" text-anchor="middle" font-family='"Liberation Sans", Arial, sans-serif' fill="#000" stroke="#000" stroke-width="0.25">3.6</text>
<text x="494.4" y="180.4" font-size="9.3" text-anchor="middle" font-family='"Liberation Sans", Arial, sans-serif' fill="#000" stroke="#000" stroke-width="0.25">3.8</text>
<text x="515.7" y="180.4" font-size="9.3" text-anchor="middle" font-family='"Liberation Sans", Arial, sans-serif' fill="#000" stroke="#000" stroke-width="0.25">4</text>
<text x="409.2" y="190.9" font-size="9.6" text-anchor="middle" font-family='"Liberation Sans", Arial, sans-serif' fill="#000" stroke="#000" stroke-width="0.25">Frequency (GHz)</text>
<text x="279.2" y="88.9" font-size="9.4" text-anchor="middle" font-family='"Liberation Sans", Arial, sans-serif' fill="#000" stroke="#000" stroke-width="0.25" transform="rotate(-90 279.2 88.9)">S-parameters (dB)</text>
<text x="409.2" y="201.4" font-size="10.5" text-anchor="middle" font-family='"Liberation Serif", "Times New Roman", serif' fill="#000" stroke="#000" stroke-width="0.25">(b)</text>
<clipPath id="cc"><rect x="32.7" y="203.9" width="211.2" height="164.99999999999997"/></clipPath>
<polyline points="33.0,224.5 34.5,224.8 36.0,225.0 37.6,225.3 39.1,225.6 40.6,226.0 42.1,226.4 43.6,226.8 45.1,227.2 46.7,227.7 48.2,228.2 49.7,228.7 51.2,229.3 52.7,229.9 54.2,230.5 55.8,231.2 57.3,231.9 58.8,232.7 60.3,233.5 61.8,234.3 63.3,235.2 64.9,236.1 66.4,237.0 67.9,238.0 69.4,239.0 70.9,240.1 72.4,241.2 74.0,242.3 75.5,243.4 77.0,244.6 78.5,245.8 80.0,247.0 81.6,248.3 83.1,249.5 84.6,250.8 86.1,252.0 87.6,253.3 89.1,254.6 90.7,255.9 92.2,257.2 93.7,258.5 95.2,259.8 96.7,261.1 98.2,262.4 99.8,263.7 101.3,265.0 102.8,266.3 104.3,267.5 105.8,268.8 107.3,270.0 108.9,271.2 110.4,272.3 111.9,273.5 113.4,274.6 114.9,275.7 116.4,276.8 118.0,277.8 119.5,278.8 121.0,279.8 122.5,280.8 124.0,281.8 125.6,282.8 127.1,283.8 128.6,284.7 130.1,285.7 131.6,286.7 133.1,287.7 134.7,288.7 136.2,289.7 137.7,290.7 139.2,291.7 140.7,292.8 142.2,293.8 143.8,294.9 145.3,296.0 146.8,297.2 148.3,298.3 149.8,299.5 151.3,300.6 152.9,301.8 154.4,303.0 155.9,304.3 157.4,305.5 158.9,306.8 160.5,308.0 162.0,309.3 163.5,310.6 165.0,311.9 166.5,313.3 168.0,314.6 169.6,316.0 171.1,317.3 172.6,318.7 174.1,320.0 175.6,321.3 177.1,322.7 178.7,324.0 180.2,325.3 181.7,326.5 183.2,327.8 184.7,329.0 186.2,330.2 187.8,331.3 189.3,332.4 190.8,333.4 192.3,334.4 193.8,335.4 195.3,336.3 196.9,337.2 198.4,338.0 199.9,338.8 201.4,339.6 202.9,340.3 204.5,340.9 206.0,341.6 207.5,342.2 209.0,342.8 210.5,343.3 212.0,343.8 213.6,344.3 215.1,344.8 216.6,345.3 218.1,345.7 219.6,346.1 221.1,346.5 222.7,346.9 224.2,347.2 225.7,347.6 227.2,347.9 228.7,348.2 230.2,348.6 231.8,348.9 233.3,349.2 234.8,349.5 236.3,349.8 237.8,350.1 239.3,350.4 240.9,350.7 242.4,351.0 243.9,351.3" fill="none" stroke="#ee1010" stroke-width="1.05" stroke-linejoin="round" stroke-dasharray="1.3,0.9" clip-path="url(#cc)"/>
<polyline points="33.0,356.4 33.4,356.2 33.8,356.1 34.2,355.9 34.7,355.7 35.1,355.6 35.5,355.4 35.9,355.3 36.3,355.1 36.7,354.9 37.2,354.8 37.6,354.6 38.0,354.5 38.4,354.3 38.8,354.1 39.2,354.0 39.7,353.8 40.1,353.7 40.3,353.6 40.5,353.5 40.9,353.4 41.3,353.2 41.7,353.1 42.2,353.0 42.6,352.8 43.0,352.7 43.4,352.5 43.8,352.4 44.2,352.3 44.6,352.1 45.1,352.0 45.5,351.8 45.9,351.7 46.3,351.5 46.7,351.4 47.1,351.2 47.2,351.2 47.6,351.1 48.0,350.9 48.4,350.7 48.8,350.6 49.2,350.4 49.6,350.2 50.1,350.0 50.5,349.8 50.9,349.7 51.3,349.5 51.7,349.3 52.1,349.1 52.6,348.9 53.0,348.7 53.4,348.5 53.8,348.3 54.2,348.1 54.6,347.9 55.0,347.7 55.5,347.4 55.9,347.2 55.9,347.2 56.3,347.0 56.7,346.7 57.1,346.5 57.5,346.3 58.0,346.0 58.4,345.8 58.8,345.5 59.2,345.2 59.6,344.9 60.0,344.7 60.5,344.4 60.9,344.1 61.3,343.8 61.7,343.5 62.1,343.3 62.5,343.0 63.0,342.7 63.4,342.4 63.8,342.1 64.2,341.8 64.5,341.6 64.6,341.5 65.0,341.2 65.4,340.9 65.9,340.6 66.3,340.3 66.7,340.0 67.1,339.7 67.5,339.4 67.9,339.1 68.4,338.8 68.8,338.5 69.2,338.2 69.6,337.8 70.0,337.5 70.4,337.2 70.9,336.9 71.3,336.6 71.7,336.3 72.1,335.9 72.5,335.6 72.9,335.3 73.1,335.2 73.3,335.0 73.8,334.7 74.2,334.4 74.6,334.1 75.0,333.7 75.4,333.4 75.8,333.1 76.3,332.8 76.7,332.4 77.1,332.1 77.5,331.8 77.9,331.5 78.3,331.2 78.8,330.9 79.2,330.6 79.6,330.2 80.0,330.0 80.4,329.7 80.8,329.4 81.3,329.1 81.7,328.8 81.7,328.8 82.1,328.5 82.5,328.3 82.9,328.0 83.3,327.7 83.7,327.3 84.2,327.0 84.6,326.8 85.0,326.5 85.4,326.2 85.8,326.0 86.2,325.8 86.7,325.6 87.1,325.4 87.5,325.3 87.8,325.3 87.9,325.3 88.3,325.2 88.7,325.2 89.2,325.2 89.6,325.1 90.0,325.1 90.4,325.1 90.8,325.1 91.2,325.0 91.7,325.0 92.1,325.0 92.5,325.0 92.9,325.0 92.9,325.0 93.3,325.0 93.7,325.1 94.1,325.1 94.6,325.2 95.0,325.3 95.4,325.4 95.8,325.5 96.2,325.7 96.6,325.8 97.1,326.0 97.2,326.0 97.5,326.1 97.9,326.3 98.3,326.5 98.7,326.7 99.1,326.9 99.6,327.2 100.0,327.5 100.4,327.7 100.8,328.0 101.2,328.3 101.6,328.6 102.1,328.9 102.5,329.2 102.9,329.5 103.3,329.7 103.7,330.0 104.1,330.2 104.1,330.2 104.5,330.4 105.0,330.6 105.4,330.9 105.8,331.1 106.2,331.3 106.6,331.5 107.0,331.7 107.5,331.9 107.9,332.0 108.3,332.2 108.7,332.4 109.1,332.6 109.5,332.8 110.0,333.0 110.4,333.2 110.8,333.3 111.2,333.5 111.6,333.7 112.0,333.9 112.5,334.1 112.9,334.3 113.3,334.5 113.3,334.5 113.7,334.7 114.1,334.9 114.5,335.1 114.9,335.4 115.4,335.6 115.8,335.8 116.2,336.0 116.6,336.3 117.0,336.5 117.4,336.7 117.9,336.9 118.3,337.1 118.7,337.3 119.1,337.5 119.5,337.7 119.9,337.9 120.4,338.0 120.7,338.1 120.8,338.1 121.2,338.2 121.6,338.3 122.0,338.5 122.4,338.6 122.9,338.7 123.3,338.8 123.7,338.9 124.1,339.0 124.5,339.1 124.9,339.2 125.3,339.3 125.8,339.4 126.2,339.5 126.6,339.6 127.0,339.6 127.4,339.7 127.8,339.8 128.3,339.8 128.7,339.9 129.1,339.9 129.5,339.9 129.9,340.0 130.3,340.0 130.8,340.0 131.0,340.0 131.2,340.0 131.6,340.0 132.0,340.0 132.4,339.9 132.8,339.9 133.3,339.9 133.7,339.8 134.1,339.8 134.5,339.7 134.9,339.6 135.3,339.6 135.7,339.5 136.2,339.4 136.6,339.3 137.0,339.2 137.4,339.1 137.8,339.0 138.2,338.9 138.7,338.8 139.1,338.7 139.5,338.6 139.7,338.6 139.9,338.6 140.3,338.4 140.7,338.3 141.2,338.2 141.6,338.1 142.0,337.9 142.4,337.8 142.8,337.7 143.2,337.5 143.6,337.3 144.1,337.2 144.5,337.0 144.9,336.8 145.3,336.6 145.7,336.4 146.1,336.2 146.6,336.0 147.0,335.8 147.4,335.6 147.8,335.4 148.2,335.2 148.3,335.2 148.6,335.0 149.1,334.8 149.5,334.6 149.9,334.3 150.3,334.0 150.7,333.7 151.1,333.5 151.6,333.2 152.0,332.9 152.4,332.6 152.8,332.3 153.2,332.0 153.6,331.6 154.0,331.3 154.5,331.1 154.9,330.8 155.3,330.5 155.7,330.2 156.1,329.9 156.5,329.7 156.9,329.5 157.0,329.5 157.4,329.2 157.8,329.0 158.2,328.8 158.6,328.6 159.0,328.3 159.5,328.1 159.9,327.9 160.3,327.7 160.7,327.5 161.1,327.3 161.5,327.1 162.0,326.9 162.4,326.7 162.8,326.5 163.2,326.3 163.6,326.2 164.0,326.0 164.4,325.9 164.9,325.7 165.3,325.6 165.3,325.6 165.7,325.5 166.1,325.4 166.5,325.2 166.9,325.1 167.4,325.0 167.8,324.9 168.2,324.8 168.6,324.7 169.0,324.6 169.4,324.5 169.9,324.5 170.3,324.4 170.7,324.4 171.0,324.4 171.1,324.4 171.5,324.4 171.9,324.5 172.4,324.5 172.8,324.6 173.2,324.7 173.6,324.8 174.0,325.0 174.4,325.1 174.8,325.3 175.3,325.4 175.7,325.6 175.9,325.7 176.1,325.8 176.5,326.0 176.9,326.3 177.3,326.7 177.8,327.1 178.2,327.5 178.6,327.8 178.8,328.0 179.0,328.2 179.4,328.5 179.8,328.8 180.3,329.2 180.7,329.5 181.1,329.9 181.5,330.2 181.9,330.5 182.3,330.9 182.8,331.2 183.2,331.6 183.6,331.9 184.0,332.3 184.4,332.6 184.8,333.0 185.2,333.4 185.4,333.5 185.7,333.7 186.1,334.1 186.5,334.5 186.9,334.9 187.3,335.3 187.7,335.8 188.2,336.2 188.6,336.6 189.0,337.0 189.4,337.5 189.8,337.9 190.2,338.3 190.7,338.7 191.1,339.1 191.5,339.5 191.9,339.9 192.3,340.3 192.6,340.5 192.7,340.6 193.2,341.0 193.6,341.3 194.0,341.6 194.4,342.0 194.8,342.3 195.2,342.6 195.6,342.9 196.1,343.3 196.5,343.6 196.9,343.9 197.3,344.2 197.7,344.5 198.1,344.8 198.6,345.1 199.0,345.3 199.4,345.6 199.5,345.7 199.8,345.9 200.2,346.2 200.6,346.5 201.1,346.7 201.5,347.0 201.9,347.3 202.3,347.6 202.7,347.8 203.1,348.1 203.6,348.4 204.0,348.6 204.4,348.9 204.8,349.1 205.2,349.4 205.6,349.6 206.0,349.8 206.5,350.1 206.9,350.3 207.3,350.5 207.7,350.7 208.1,350.9 208.1,350.9 208.5,351.1 209.0,351.3 209.4,351.5 209.8,351.7 210.2,351.9 210.6,352.0 211.0,352.2 211.5,352.4 211.9,352.6 212.3,352.7 212.7,352.9 213.1,353.0 213.5,353.2 213.9,353.4 214.4,353.5 214.8,353.7 215.2,353.8 215.6,353.9 216.0,354.1 216.4,354.2 216.7,354.3 216.9,354.4 217.3,354.5 217.7,354.6 218.1,354.7 218.5,354.9 218.9,355.0 219.4,355.1 219.8,355.2 220.2,355.3 220.6,355.4 221.0,355.6 221.4,355.7 221.9,355.8 222.3,355.9 222.7,356.0 223.1,356.1 223.5,356.2 223.9,356.3 224.3,356.4 224.8,356.5 225.2,356.6 225.3,356.6 225.6,356.7 226.0,356.8 226.4,356.8 226.8,356.9 227.3,357.0 227.7,357.1 228.1,357.2 228.5,357.3 228.9,357.4 229.3,357.4 229.8,357.5 230.2,357.6 230.6,357.7 231.0,357.8 231.4,357.8 231.8,357.9 232.3,358.0 232.7,358.1 233.1,358.1 233.5,358.2 233.9,358.3 234.0,358.3 234.3,358.4 234.7,358.4 235.2,358.5 235.6,358.6 236.0,358.6 236.4,358.7 236.8,358.8 237.2,358.8 237.7,358.9 238.1,359.0 238.5,359.0 238.9,359.1 239.3,359.2 239.7,359.2 240.2,359.3 240.6,359.3 241.0,359.4 241.4,359.5 241.8,359.5 242.2,359.6 242.7,359.6 243.1,359.7 243.5,359.7 243.9,359.8" fill="none" stroke="#0cd90c" stroke-width="0.9" stroke-linejoin="round" clip-path="url(#cc)"/>
<text x="30.9" y="207.8" font-size="9.3" text-anchor="end" font-family='"Liberation Sans", Arial, sans-serif' fill="#000" stroke="#000" stroke-width="0.25">200</text>
<text x="30.9" y="228.4" font-size="9.3" text-anchor="end" font-family='"Liberation Sans", Arial, sans-serif' fill="#000" stroke="#000" stroke-width="0.25">150</text>
<text x="30.9" y="248.9" font-size="9.3" text-anchor="end" font-family='"Liberation Sans", Arial, sans-serif' fill="#000" stroke="#000" stroke-width="0.25">100</text>
<text x="30.9" y="269.5" font-size="9.3" text-anchor="end" font-family='"Liberation Sans", Arial, sans-serif' fill="#000" stroke="#000" stroke-width="0.25">50</text>
<text x="30.9" y="290.0" font-size="9.3" text-anchor="end" font-family='"Liberation Sans", Arial, sans-serif' fill="#000" stroke="#000" stroke-width="0.25">0</text>
<text x="30.9" y="310.6" font-size="9.3" text-anchor="end" font-family='"Liberation Sans", Arial, sans-serif' fill="#000" stroke="#000" stroke-width="0.25">-50</text>
<text x="30.9" y="331.2" font-size="9.3" text-anchor="end" font-family='"Liberation Sans", Arial, sans-serif' fill="#000" stroke="#000" stroke-width="0.25">-100</text>
<text x="30.9" y="351.7" font-size="9.3" text-anchor="end" font-family='"Liberation Sans", Arial, sans-serif' fill="#000" stroke="#000" stroke-width="0.25">-150</text>
<text x="30.9" y="372.3" font-size="9.3" text-anchor="end" font-family='"Liberation Sans", Arial, sans-serif' fill="#000" stroke="#000" stroke-width="0.25">-200</text>
<text x="31.3" y="380.4" font-size="9.3" text-anchor="middle" font-family='"Liberation Sans", Arial, sans-serif' fill="#000" stroke="#000" stroke-width="0.25">2.4</text>
<text x="73.5" y="380.4" font-size="9.3" text-anchor="middle" font-family='"Liberation Sans", Arial, sans-serif' fill="#000" stroke="#000" stroke-width="0.25">2.6</text>
<text x="115.8" y="380.4" font-size="9.3" text-anchor="middle" font-family='"Liberation Sans", Arial, sans-serif' fill="#000" stroke="#000" stroke-width="0.25">2.8</text>
<text x="158.0" y="380.4" font-size="9.3" text-anchor="middle" font-family='"Liberation Sans", Arial, sans-serif' fill="#000" stroke="#000" stroke-width="0.25">3</text>
<text x="200.3" y="380.4" font-size="9.3" text-anchor="middle" font-family='"Liberation Sans", Arial, sans-serif' fill="#000" stroke="#000" stroke-width="0.25">3.2</text>
<text x="242.5" y="380.4" font-size="9.3" text-anchor="middle" font-family='"Liberation Sans", Arial, sans-serif' fill="#000" stroke="#000" stroke-width="0.25">3.4</text>
<text x="246.9" y="372.3" font-size="9.3" text-anchor="start" font-family='"Liberation Sans", Arial, sans-serif' fill="#000" stroke="#000" stroke-width="0.25">0</text>
<text x="246.9" y="338.4" font-size="9.3" text-anchor="start" font-family='"Liberation Sans", Arial, sans-serif' fill="#000" stroke="#000" stroke-width="0.25">1</text>
<text x="246.9" y="305.5" font-size="9.3" text-anchor="start" font-family='"Liberation Sans", Arial, sans-serif' fill="#000" stroke="#000" stroke-width="0.25">2</text>
<text x="246.9" y="272.6" font-size="9.3" text-anchor="start" font-family='"Liberation Sans", Arial, sans-serif' fill="#000" stroke="#000" stroke-width="0.25">3</text>
<text x="246.9" y="239.7" font-size="9.3" text-anchor="start" font-family='"Liberation Sans", Arial, sans-serif' fill="#000" stroke="#000" stroke-width="0.25">4</text>
<text x="246.9" y="207.8" font-size="9.3" text-anchor="start" font-family='"Liberation Sans", Arial, sans-serif' fill="#000" stroke="#000" stroke-width="0.25">5</text>
<text x="141.0" y="391.0" font-size="9.6" text-anchor="middle" font-family='"Liberation Sans", Arial, sans-serif' fill="#000" stroke="#000" stroke-width="0.25">Frequency (GHz)</text>
<text x="8.6" y="284.8" font-size="9.6" text-anchor="middle" font-family='"Liberation Sans", Arial, sans-serif' fill="#000" stroke="#000" stroke-width="0.25" transform="rotate(-90 8.6 284.8)">Phase of <tspan font-style="italic">S</tspan><tspan font-size="6.5" stroke-width="0.12" dy="2">21</tspan><tspan dy="-2"> (deg)</tspan></text>
<text x="260.6" y="287.3" font-size="9.7" text-anchor="middle" font-family='"Liberation Sans", Arial, sans-serif' fill="#000" stroke="#000" stroke-width="0.25" transform="rotate(-90 260.6 287.3)">Group delay (ns)</text>
<text x="128.2" y="402.0" font-size="10.5" text-anchor="middle" font-family='"Liberation Serif", "Times New Roman", serif' fill="#000" stroke="#000" stroke-width="0.25">(c)</text>
<ellipse cx="127.3" cy="282.2" rx="28" ry="12.7" fill="none" stroke="#333" stroke-width="1"/>
<ellipse cx="91.45" cy="326.7" rx="27.85" ry="12.75" fill="none" stroke="#333" stroke-width="1"/>
<path d="M155.3,281.9H220" stroke="#444" stroke-width="1.25" fill="none"/><path d="M222.6,281.9l-5,-2.5l1,2.5l-1,2.5z" fill="#222"/>
<path d="M63.6,326.9H45" stroke="#444" stroke-width="1.25" fill="none"/><path d="M42.3,326.9l5,-2.5l-1,2.5l1,2.5z" fill="#222"/>
<clipPath id="cd"><rect x="302.7" y="204.4" width="213.25000000000006" height="164.49999999999997"/></clipPath>
<polyline points="302.3,340.0 302.6,339.6 302.9,339.0 303.2,338.4 303.5,337.7 303.8,336.8 303.8,336.8 304.1,335.8 304.4,334.5 304.7,333.0 305.0,331.4 305.3,329.8 305.6,328.2 305.9,326.8 306.2,325.7 306.2,325.6 306.5,324.8 306.8,324.0 307.0,323.2 307.3,322.5 307.6,321.8 307.9,321.2 308.2,320.6 308.5,320.1 308.8,319.7 309.0,319.5 309.1,319.4 309.4,319.0 309.7,318.7 310.0,318.4 310.3,318.1 310.6,317.9 310.9,317.6 311.2,317.4 311.5,317.3 311.8,317.1 312.1,317.0 312.4,317.0 312.5,317.0 312.7,317.0 313.0,317.1 313.3,317.2 313.6,317.4 313.9,317.7 314.2,317.9 314.5,318.2 314.8,318.5 315.0,318.8 315.1,318.9 315.4,319.2 315.7,319.7 316.0,320.2 316.2,320.9 316.5,321.5 316.8,322.3 317.1,323.1 317.2,323.3 317.4,324.0 317.7,324.9 318.0,326.0 318.3,327.3 318.6,328.7 318.9,330.5 319.2,332.6 319.5,335.0 319.5,335.1 319.8,339.7 320.1,346.9 320.4,355.8 320.7,365.4 321.0,354.6 321.4,344.7 321.7,336.4 322.0,329.9 322.1,329.1 322.4,325.1 322.7,321.1 323.1,317.7 323.4,314.9 323.7,312.7 323.7,312.5 324.1,310.3 324.4,308.3 324.7,306.5 325.1,304.9 325.4,303.3 325.8,301.8 326.1,300.5 326.4,299.2 326.8,297.9 327.1,296.7 327.2,296.4 327.4,295.5 327.8,294.4 328.1,293.4 328.5,292.3 328.8,291.3 329.1,290.4 329.5,289.5 329.8,288.6 330.1,287.7 330.5,286.9 330.8,286.0 331.2,285.2 331.5,284.3 331.8,283.4 332.2,282.6 332.5,281.7 332.8,280.7 333.1,280.0 333.2,279.8 333.5,278.8 333.9,277.8 334.2,276.7 334.5,275.7 334.9,274.7 335.2,273.6 335.5,272.6 335.9,271.7 336.2,270.7 336.4,270.2 336.5,269.8 336.9,268.9 337.2,268.1 337.6,267.3 337.9,266.5 338.2,265.7 338.6,264.9 338.9,264.1 339.2,263.4 339.6,262.6 339.9,261.9 340.3,261.1 340.6,260.4 340.9,259.6 341.3,258.9 341.6,258.1 341.9,257.3 342.3,256.6 342.6,255.8 343.0,254.9 343.3,254.1 343.4,253.8 343.6,253.2 344.0,252.3 344.3,251.4 344.6,250.5 345.0,249.6 345.3,248.6 345.7,247.7 346.0,246.7 346.3,245.8 346.7,244.8 347.0,243.8 347.3,242.8 347.7,241.9 348.0,240.9 348.3,239.9 348.7,238.9 349.0,237.9 349.2,237.4 349.4,236.9 349.7,236.0 350.0,235.0 350.4,234.0 350.7,233.0 351.0,232.0 351.4,231.1 351.7,230.1 352.1,229.1 352.4,228.0 352.7,227.0 353.1,226.0 353.4,225.0 353.7,223.9 353.9,223.4 354.1,222.8 354.4,221.7 354.8,220.5 355.1,219.4 355.4,218.2 355.8,217.0 356.1,215.8 356.4,214.7 356.8,213.6 357.0,212.9 357.1,212.5 357.5,211.5 357.8,210.5 358.1,209.5 358.5,208.6 358.6,208.3 358.8,207.8 359.1,206.9 359.5,206.2 359.8,205.9 359.8,205.9 360.2,205.8 360.5,205.7 360.8,205.7 361.2,205.6 361.5,205.6 361.8,205.5 362.2,205.5 362.5,205.5 362.8,205.5 363.0,205.5 363.2,205.5 363.5,205.5 363.9,205.5 364.2,205.5 364.5,205.5 364.9,205.6 365.2,205.6 365.5,205.6 365.9,205.7 366.2,205.7 366.6,205.8 366.8,205.8 366.9,205.8 367.2,206.2 367.6,206.7 367.9,207.5 368.2,208.2 368.2,208.3 368.6,209.4 368.9,210.8 369.3,212.4 369.6,214.0 369.6,214.0 369.9,215.6 370.3,217.4 370.6,219.4 370.9,221.4 371.3,223.4 371.6,225.3 372.0,227.2 372.3,229.0 372.6,230.4 372.6,230.5 373.0,231.9 373.3,233.3 373.6,234.6 374.0,235.9 374.3,237.1 374.6,238.2 375.0,239.4 375.3,240.5 375.7,241.6 376.0,242.7 376.3,243.7 376.7,244.8 377.0,245.9 377.3,246.8 377.3,247.0 377.7,248.0 378.0,249.0 378.4,250.0 378.7,250.9 379.0,251.8 379.4,252.7 379.7,253.7 380.0,254.6 380.4,255.6 380.7,256.6 381.1,257.6 381.4,258.7 381.7,259.8 382.0,260.8 382.1,261.1 382.4,262.3 382.7,263.7 383.1,265.1 383.4,266.6 383.8,268.1 384.1,269.8 384.4,271.6 384.8,273.5 385.0,274.9 385.1,275.5 385.4,277.6 385.8,279.8 386.1,282.4 386.5,285.8 386.7,288.9 386.8,290.3 387.1,298.5 387.5,310.0 387.8,323.3 388.2,305.9 388.6,292.1 389.0,284.3 389.0,284.2 389.4,281.4 389.8,279.6 390.2,278.0 390.2,277.9 390.6,276.4 391.0,275.0 391.4,273.6 391.8,272.4 392.1,271.2 392.5,270.2 392.5,270.1 392.9,269.0 393.3,267.9 393.7,266.9 394.1,266.2 394.1,266.2 394.5,265.5 394.9,264.9 395.3,264.4 395.7,263.8 396.1,263.3 396.5,262.9 396.9,262.4 397.3,262.0 397.7,261.6 398.1,261.3 398.5,260.9 398.9,260.6 399.3,260.2 399.3,260.2 399.7,259.9 400.1,259.6 400.4,259.3 400.8,259.0 401.2,258.7 401.6,258.4 402.0,258.2 402.4,257.9 402.8,257.6 403.2,257.4 403.6,257.1 404.0,256.9 404.4,256.6 404.8,256.4 405.2,256.2 405.6,256.0 406.0,255.7 406.4,255.5 406.8,255.3 407.2,255.1 407.6,254.9 408.0,254.7 408.4,254.5 408.7,254.3 409.1,254.1 409.5,253.9 409.9,253.7 410.3,253.5 410.7,253.3 411.0,253.2 411.1,253.1 411.5,253.0 411.9,252.8 412.3,252.6 412.7,252.4 413.1,252.2 413.5,252.1 413.9,251.9 414.3,251.7 414.7,251.6 415.1,251.4 415.5,251.2 415.9,251.1 416.3,250.9 416.7,250.8 417.0,250.6 417.4,250.5 417.8,250.3 418.2,250.2 418.6,250.0 419.0,249.9 419.4,249.7 419.8,249.6 420.2,249.4 420.6,249.3 421.0,249.1 421.4,249.0 421.8,248.8 422.2,248.7 422.6,248.5 423.0,248.4 423.4,248.2 423.8,248.1 423.9,248.0 424.2,247.9 424.6,247.7 425.0,247.6 425.3,247.4 425.7,247.3 426.1,247.1 426.5,247.0 426.9,246.8 427.3,246.7 427.7,246.5 428.1,246.4 428.5,246.2 428.9,246.1 429.3,245.9 429.7,245.8 430.1,245.6 430.5,245.5 430.9,245.3 431.3,245.2 431.7,245.0 432.1,244.9 432.5,244.7 432.9,244.6 433.3,244.4 433.6,244.2 434.0,244.1 434.4,243.9 434.8,243.7 435.2,243.6 435.6,243.4 436.0,243.2 436.4,243.0 436.8,242.8 436.9,242.8 437.2,242.7 437.6,242.5 438.0,242.3 438.4,242.1 438.8,241.8 439.2,241.6 439.6,241.4 440.0,241.2 440.4,241.0 440.8,240.7 441.2,240.5 441.6,240.3 441.9,240.1 442.3,239.8 442.7,239.6 443.1,239.3 443.5,239.1 443.9,238.8 444.3,238.6 444.7,238.3 445.1,238.1 445.5,237.8 445.9,237.6 446.3,237.3 446.7,237.1 447.1,236.8 447.5,236.6 447.9,236.3 448.3,236.1 448.7,235.8 449.1,235.5 449.5,235.3 449.8,235.0 449.9,235.0 450.2,234.8 450.6,234.5 451.0,234.3 451.4,234.0 451.8,233.8 452.2,233.5 452.6,233.3 453.0,233.0 453.4,232.8 453.8,232.6 454.2,232.3 454.6,232.1 455.0,231.8 455.4,231.6 455.8,231.3 456.2,231.0 456.6,230.8 457.0,230.5 457.4,230.3 457.8,230.0 458.1,229.7 458.5,229.4 458.9,229.2 459.3,228.9 459.7,228.6 460.1,228.3 460.5,228.0 460.9,227.7 461.3,227.3 461.7,227.0 462.1,226.7 462.5,226.4 462.9,226.0 462.9,226.0 463.3,225.6 463.7,225.3 464.1,224.8 464.5,224.4 464.9,223.9 465.3,223.5 465.7,223.0 466.1,222.5 466.4,222.0 466.8,221.5 467.2,221.0 467.6,220.5 468.0,220.0 468.4,219.5 468.8,219.0 469.2,218.5 469.6,218.1 470.0,217.6 470.4,217.2 470.7,216.9 470.8,216.8 471.2,216.4 471.6,216.0 472.0,215.6 472.4,215.2 472.8,214.8 473.2,214.5 473.6,214.2 474.0,213.9 474.4,213.7 474.5,213.6 474.7,213.5 475.1,213.3 475.5,213.1 475.9,213.0 476.3,212.8 476.7,212.7 477.1,212.6 477.5,212.5 477.9,212.5 478.0,212.5 478.3,212.5 478.7,212.6 479.1,212.6 479.5,212.7 479.9,212.8 480.3,212.9 480.7,213.1 481.1,213.2 481.5,213.4 481.5,213.4 481.9,213.6 482.3,213.8 482.7,214.0 483.0,214.3 483.4,214.6 483.8,215.0 484.2,215.4 484.6,215.7 485.0,216.1 485.0,216.1 485.4,216.5 485.8,217.0 486.2,217.5 486.6,218.0 487.0,218.5 487.4,219.1 487.8,219.7 488.2,220.3 488.6,220.9 489.0,221.6 489.4,222.3 489.8,223.0 490.2,223.7 490.6,224.4 491.0,225.1 491.3,225.9 491.4,226.0 491.7,226.7 492.1,227.5 492.5,228.3 492.9,229.2 493.3,230.1 493.7,231.0 494.1,232.0 494.5,233.0 494.9,234.0 495.3,235.1 495.7,236.2 496.1,237.4 496.5,238.5 496.6,238.9 496.9,239.8 497.3,241.1 497.7,242.5 498.1,244.0 498.5,245.5 498.9,247.1 499.3,248.8 499.6,250.5 500.0,252.3 500.4,254.2 500.5,254.5 500.8,256.1 501.2,258.2 501.6,260.4 502.0,262.9 502.3,264.9 502.4,265.8 502.8,269.2 503.2,273.1 503.6,277.4 503.9,275.1 504.3,272.9 504.6,270.8 504.9,268.9 505.2,267.1 505.6,265.5 505.7,264.9 505.9,264.2 506.2,262.9 506.5,261.7 506.9,260.5 507.2,259.5 507.5,258.5 507.8,257.5 508.2,256.7 508.5,255.9 508.8,255.1 509.1,254.5 509.1,254.4 509.5,253.8 509.8,253.2 510.1,252.6 510.4,252.1 510.8,251.6 511.1,251.1 511.4,250.6 511.7,250.1 512.1,249.7 512.4,249.3 512.7,248.9 513.0,248.5 513.4,248.1 513.5,248.0 513.7,247.8 514.0,247.4 514.3,247.1 514.7,246.8 515.0,246.5 515.3,246.2 515.6,245.9 516.0,245.6 516.3,245.4" fill="none" stroke="#0cd90c" stroke-width="0.9" stroke-linejoin="round" clip-path="url(#cd)"/>
<polyline points="354.2,205.6 354.6,205.7 355.0,205.8 355.1,205.8 355.5,206.2 355.9,207.0 356.3,208.1 356.8,209.4 357.2,210.9 357.4,211.7 357.6,212.7 358.1,215.5 358.5,219.2 358.9,223.6 359.3,228.0 359.3,228.5 359.8,235.1 360.2,243.3 360.4,240.5 360.6,237.9 360.8,235.4 361.0,233.1 361.2,231.0 361.4,229.0 361.6,226.9 361.8,225.2 362.0,223.8 362.1,223.4 362.2,223.1 362.4,222.4 362.6,221.9 362.8,221.4 363.0,221.0 363.2,220.8 363.4,220.6 363.5,220.6 363.6,220.6 363.8,220.8 364.0,221.1 364.2,221.5 364.4,222.0 364.6,222.5 364.8,223.0 365.0,223.7 365.2,224.5 365.4,225.3 365.6,226.2 366.0,224.5 366.5,222.6 366.8,221.0 366.9,220.4 367.3,217.7 367.8,215.0 368.0,214.0 368.2,213.1 368.7,211.4 369.1,209.8 369.5,208.5 370.0,207.5 370.3,207.0 370.4,206.9 370.8,206.4 371.3,206.0 371.7,205.7 372.2,205.5 372.6,205.4 372.6,205.4 373.0,205.4" fill="none" stroke="#2020ee" stroke-width="1" stroke-linejoin="round" stroke-dasharray="1,0.9"/>
<polyline points="459.5,205.4 460.0,205.4 460.3,205.4 460.4,205.4 460.8,205.4 461.3,205.5 461.7,205.5 462.1,205.5 462.6,205.6 463.0,205.6 463.4,205.7 463.9,205.8 464.3,205.9 464.8,205.9 465.2,206.0 465.6,206.1 466.1,206.2 466.5,206.3 466.9,206.4 467.4,206.5 467.8,206.6 468.3,206.7 468.7,206.8 469.1,206.9 469.6,207.0 470.0,207.1 470.4,207.2 470.7,207.3 470.9,207.3 471.3,207.5 471.7,207.6 472.2,207.8 472.6,207.9 473.1,208.1 473.5,208.2 473.9,208.4 474.4,208.5 474.8,208.7 475.2,208.8 475.5,208.9 475.7,208.9 476.1,209.1 476.6,209.2 477.0,209.3 477.4,209.5 477.9,209.6 478.3,209.7 478.7,209.8 479.2,209.9 479.6,209.9 479.8,209.9 480.0,209.9 480.5,209.8 480.9,209.8 481.4,209.6 481.8,209.5 482.2,209.3 482.7,209.1 483.1,209.0 483.5,208.8 484.0,208.6 484.0,208.6 484.4,208.4 484.8,208.2 485.3,208.0 485.7,207.8 486.2,207.6 486.6,207.4 487.0,207.2 487.5,207.0 487.9,206.8 488.3,206.6 488.8,206.5 488.8,206.5 489.2,206.4 489.7,206.3 490.1,206.2 490.5,206.1 491.0,206.0 491.4,205.9 491.8,205.8 492.3,205.8 492.7,205.7 493.1,205.6 493.6,205.5 494.0,205.5 494.5,205.4 494.9,205.4 495.3,205.4 495.8,205.3 496.2,205.3 496.6,205.3 496.6,205.3 497.1,205.3" fill="none" stroke="#2020ee" stroke-width="1" stroke-linejoin="round" stroke-dasharray="1,0.9"/>
<path d="M302.7,204.9H354.8M372.6,204.9H461M496.5,204.9H515.95" stroke="#4848cc" stroke-width="1.15" fill="none"/>
<text x="298.2" y="208.3" font-size="9.3" text-anchor="end" font-family='"Liberation Sans", Arial, sans-serif' fill="#000" stroke="#000" stroke-width="0.25">0</text>
<text x="298.2" y="226.5" font-size="9.3" text-anchor="end" font-family='"Liberation Sans", Arial, sans-serif' fill="#000" stroke="#000" stroke-width="0.25">-10</text>
<text x="298.2" y="244.7" font-size="9.3" text-anchor="end" font-family='"Liberation Sans", Arial, sans-serif' fill="#000" stroke="#000" stroke-width="0.25">-20</text>
<text x="298.2" y="263.0" font-size="9.3" text-anchor="end" font-family='"Liberation Sans", Arial, sans-serif' fill="#000" stroke="#000" stroke-width="0.25">-30</text>
<text x="298.2" y="281.2" font-size="9.3" text-anchor="end" font-family='"Liberation Sans", Arial, sans-serif' fill="#000" stroke="#000" stroke-width="0.25">-40</text>
<text x="298.2" y="299.4" font-size="9.3" text-anchor="end" font-family='"Liberation Sans", Arial, sans-serif' fill="#000" stroke="#000" stroke-width="0.25">-50</text>
<text x="298.2" y="317.6" font-size="9.3" text-anchor="end" font-family='"Liberation Sans", Arial, sans-serif' fill="#000" stroke="#000" stroke-width="0.25">-60</text>
<text x="298.2" y="335.9" font-size="9.3" text-anchor="end" font-family='"Liberation Sans", Arial, sans-serif' fill="#000" stroke="#000" stroke-width="0.25">-70</text>
<text x="298.2" y="354.1" font-size="9.3" text-anchor="end" font-family='"Liberation Sans", Arial, sans-serif' fill="#000" stroke="#000" stroke-width="0.25">-80</text>
<text x="298.2" y="372.3" font-size="9.3" text-anchor="end" font-family='"Liberation Sans", Arial, sans-serif' fill="#000" stroke="#000" stroke-width="0.25">-90</text>
<text x="302.2" y="380.2" font-size="9.3" text-anchor="middle" font-family='"Liberation Sans", Arial, sans-serif' fill="#000" stroke="#000" stroke-width="0.25">0</text>
<text x="344.9" y="380.2" font-size="9.3" text-anchor="middle" font-family='"Liberation Sans", Arial, sans-serif' fill="#000" stroke="#000" stroke-width="0.25">2</text>
<text x="387.5" y="380.2" font-size="9.3" text-anchor="middle" font-family='"Liberation Sans", Arial, sans-serif' fill="#000" stroke="#000" stroke-width="0.25">4</text>
<text x="430.2" y="380.2" font-size="9.3" text-anchor="middle" font-family='"Liberation Sans", Arial, sans-serif' fill="#000" stroke="#000" stroke-width="0.25">6</text>
<text x="472.8" y="380.2" font-size="9.3" text-anchor="middle" font-family='"Liberation Sans", Arial, sans-serif' fill="#000" stroke="#000" stroke-width="0.25">8</text>
<text x="515.5" y="380.2" font-size="9.3" text-anchor="middle" font-family='"Liberation Sans", Arial, sans-serif' fill="#000" stroke="#000" stroke-width="0.25">10</text>
<text x="410.2" y="391.8" font-size="9.6" text-anchor="middle" font-family='"Liberation Sans", Arial, sans-serif' fill="#000" stroke="#000" stroke-width="0.25">Frequency (GHz)</text>
<text x="278.5" y="286.9" font-size="9.6" text-anchor="middle" font-family='"Liberation Sans", Arial, sans-serif' fill="#000" stroke="#000" stroke-width="0.25" transform="rotate(-90 278.5 286.9)">S-parameters (dB)</text>
<text x="408.2" y="403.2" font-size="10.5" text-anchor="middle" font-family='"Liberation Serif", "Times New Roman", serif' fill="#000" stroke="#000" stroke-width="0.25">(d)</text>
<polyline points="399.0,333.1 425.0,333.1" fill="none" stroke="#0cd90c" stroke-width="0.9" stroke-linejoin="round"/>
<polyline points="399.0,348.0 425.0,348.0" fill="none" stroke="#2020ee" stroke-width="1" stroke-linejoin="round" stroke-dasharray="1,0.9"/>
<text x="430.4" y="338.2" font-size="9.6" text-anchor="start" font-family='"Liberation Sans", Arial, sans-serif' fill="#000" stroke="#000" stroke-width="0.25">|S<tspan font-size="6.5" stroke-width="0.12" dy="2">21</tspan><tspan dy="-2">|</tspan></text>
<text x="430.4" y="352.8" font-size="9.6" text-anchor="start" font-family='"Liberation Sans", Arial, sans-serif' fill="#000" stroke="#000" stroke-width="0.25">|S<tspan font-size="6.5" stroke-width="0.12" dy="2">11</tspan><tspan dy="-2">|</tspan></text>
</g></svg>
</body></html>
